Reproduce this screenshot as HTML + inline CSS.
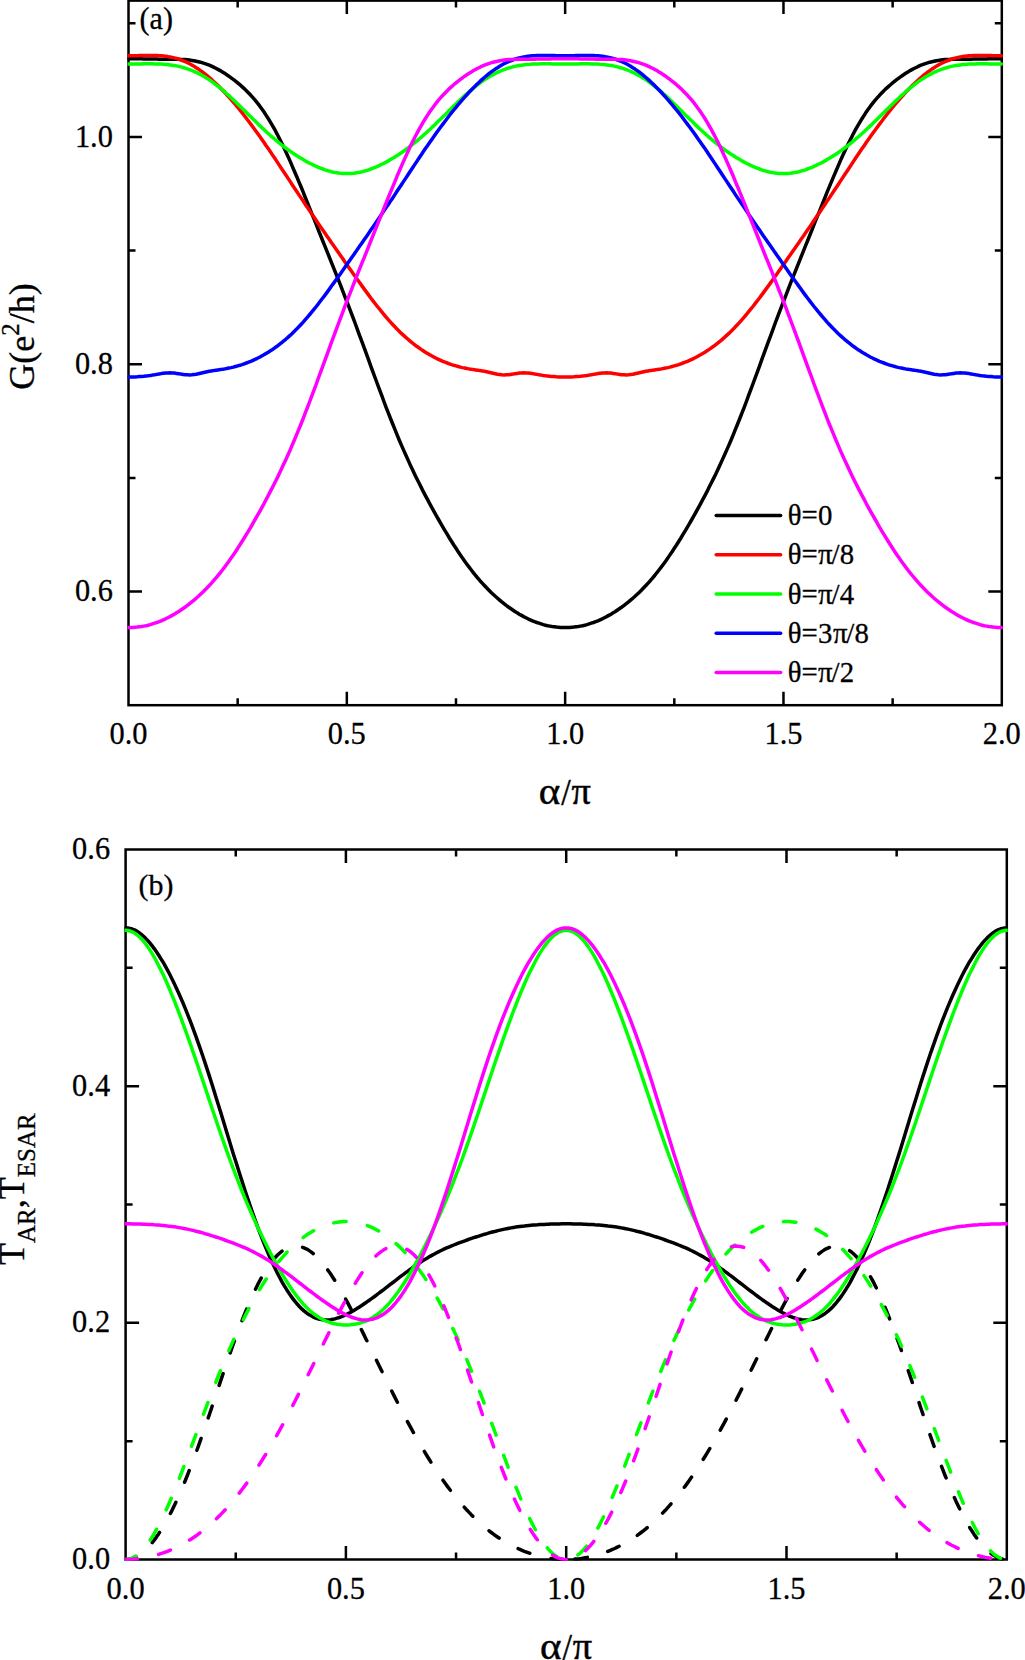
<!DOCTYPE html>
<html lang="en"><head><meta charset="utf-8"><title>Conductance and Andreev reflection vs alpha</title>
<style>html,body{margin:0;padding:0;background:#fff}svg{display:block}text{font-family:"Liberation Serif", serif;fill:#000;stroke:#000;stroke-width:0.3px}.T2{stroke-width:0.45px}.t{font-size:30px}.T{font-size:36px}.c{fill:none;stroke-width:3.50;stroke-linejoin:round;stroke-linecap:round}.ax{stroke:#000;stroke-width:2.50;fill:none;stroke-linecap:butt}</style></head><body>
<svg width="1025" height="1660" viewBox="0 0 1025 1660">
<rect width="1025" height="1660" fill="#fff"/>
<defs><clipPath id="ca"><rect x="127.5" y="-0.4" width="875.3" height="706.9"/></clipPath><clipPath id="cb"><rect x="124.6" y="848.5" width="883.2" height="712.2"/></clipPath></defs>
<g id="plotA">
<rect class="ax" x="128.50" y="0.60" width="873.30" height="704.60"/>
<path class="ax" d="M346.82 705.20v-13.5M346.82 0.60v13.5M565.15 705.20v-13.5M565.15 0.60v13.5M783.47 705.20v-13.5M783.47 0.60v13.5M237.66 705.20v-7.0M237.66 0.60v7.0M455.99 705.20v-7.0M455.99 0.60v7.0M674.31 705.20v-7.0M674.31 0.60v7.0M892.64 705.20v-7.0M892.64 0.60v7.0M128.50 591.55h13.5M1001.80 591.55h-13.5M128.50 364.26h13.5M1001.80 364.26h-13.5M128.50 136.97h13.5M1001.80 136.97h-13.5M128.50 477.91h7.0M1001.80 477.91h-7.0M128.50 250.62h7.0M1001.80 250.62h-7.0M128.50 23.33h7.0M1001.80 23.33h-7.0"/>
<g clip-path="url(#ca)">
<path class="c" stroke="#000000" d="M128.5 58.7 L130.7 58.7 L132.9 58.7 L135.0 58.7 L137.2 58.7 L139.4 58.8 L141.6 58.8 L143.8 58.9 L146.0 58.9 L148.1 59.0 L150.3 59.0 L152.5 59.1 L154.7 59.1 L156.9 59.1 L159.1 59.2 L161.2 59.2 L163.4 59.2 L165.6 59.2 L167.8 59.2 L170.0 59.2 L172.2 59.2 L174.3 59.2 L176.5 59.3 L178.7 59.3 L180.9 59.4 L183.1 59.5 L185.3 59.6 L187.4 59.8 L189.6 60.1 L191.8 60.4 L194.0 60.7 L196.2 61.2 L198.4 61.7 L200.5 62.2 L202.7 62.9 L204.9 63.6 L207.1 64.4 L209.3 65.2 L211.5 66.2 L213.6 67.2 L215.8 68.3 L218.0 69.4 L220.2 70.6 L222.4 71.9 L224.6 73.3 L226.7 74.7 L228.9 76.2 L231.1 77.8 L233.3 79.4 L235.5 81.1 L237.7 82.9 L239.8 84.7 L242.0 86.6 L244.2 88.6 L246.4 90.7 L248.6 93.0 L250.8 95.3 L252.9 97.7 L255.1 100.2 L257.3 102.9 L259.5 105.7 L261.7 108.7 L263.9 111.8 L266.0 115.1 L268.2 118.5 L270.4 122.1 L272.6 125.8 L274.8 129.7 L277.0 133.8 L279.1 138.0 L281.3 142.3 L283.5 146.8 L285.7 151.5 L287.9 156.2 L290.1 161.1 L292.2 166.1 L294.4 171.2 L296.6 176.3 L298.8 181.6 L301.0 186.8 L303.2 192.2 L305.3 197.5 L307.5 202.9 L309.7 208.4 L311.9 213.8 L314.1 219.2 L316.3 224.7 L318.4 230.1 L320.6 235.5 L322.8 241.0 L325.0 246.4 L327.2 251.8 L329.4 257.3 L331.5 262.7 L333.7 268.2 L335.9 273.7 L338.1 279.2 L340.3 284.7 L342.5 290.3 L344.6 295.9 L346.8 301.5 L349.0 307.2 L351.2 312.9 L353.4 318.7 L355.6 324.5 L357.7 330.4 L359.9 336.3 L362.1 342.2 L364.3 348.1 L366.5 354.1 L368.7 360.1 L370.8 366.1 L373.0 372.1 L375.2 378.0 L377.4 384.0 L379.6 389.9 L381.8 395.7 L383.9 401.5 L386.1 407.3 L388.3 412.9 L390.5 418.5 L392.7 424.0 L394.9 429.4 L397.0 434.7 L399.2 440.0 L401.4 445.1 L403.6 450.1 L405.8 455.0 L408.0 459.9 L410.1 464.6 L412.3 469.3 L414.5 473.9 L416.7 478.4 L418.9 482.8 L421.1 487.1 L423.2 491.4 L425.4 495.6 L427.6 499.7 L429.8 503.8 L432.0 507.8 L434.2 511.8 L436.3 515.7 L438.5 519.5 L440.7 523.3 L442.9 527.1 L445.1 530.8 L447.3 534.4 L449.4 538.0 L451.6 541.5 L453.8 545.0 L456.0 548.3 L458.2 551.7 L460.4 554.9 L462.5 558.1 L464.7 561.2 L466.9 564.2 L469.1 567.1 L471.3 570.0 L473.5 572.8 L475.6 575.5 L477.8 578.1 L480.0 580.7 L482.2 583.1 L484.4 585.5 L486.6 587.8 L488.7 590.0 L490.9 592.2 L493.1 594.3 L495.3 596.3 L497.5 598.2 L499.7 600.1 L501.8 601.9 L504.0 603.7 L506.2 605.4 L508.4 607.0 L510.6 608.5 L512.8 610.0 L514.9 611.5 L517.1 612.8 L519.3 614.2 L521.5 615.4 L523.7 616.6 L525.9 617.7 L528.0 618.8 L530.2 619.8 L532.4 620.8 L534.6 621.7 L536.8 622.5 L539.0 623.2 L541.1 623.9 L543.3 624.6 L545.5 625.2 L547.7 625.7 L549.9 626.1 L552.1 626.5 L554.2 626.8 L556.4 627.1 L558.6 627.3 L560.8 627.5 L563.0 627.6 L565.1 627.6 L567.3 627.6 L569.5 627.5 L571.7 627.3 L573.9 627.1 L576.1 626.8 L578.2 626.5 L580.4 626.1 L582.6 625.7 L584.8 625.2 L587.0 624.6 L589.2 623.9 L591.3 623.2 L593.5 622.5 L595.7 621.7 L597.9 620.8 L600.1 619.8 L602.3 618.8 L604.4 617.7 L606.6 616.6 L608.8 615.4 L611.0 614.2 L613.2 612.8 L615.4 611.5 L617.5 610.0 L619.7 608.5 L621.9 607.0 L624.1 605.4 L626.3 603.7 L628.5 601.9 L630.6 600.1 L632.8 598.2 L635.0 596.3 L637.2 594.3 L639.4 592.2 L641.6 590.0 L643.7 587.8 L645.9 585.5 L648.1 583.1 L650.3 580.7 L652.5 578.1 L654.7 575.5 L656.8 572.8 L659.0 570.0 L661.2 567.1 L663.4 564.2 L665.6 561.2 L667.8 558.1 L669.9 554.9 L672.1 551.7 L674.3 548.3 L676.5 545.0 L678.7 541.5 L680.9 538.0 L683.0 534.4 L685.2 530.8 L687.4 527.1 L689.6 523.3 L691.8 519.5 L694.0 515.7 L696.1 511.8 L698.3 507.8 L700.5 503.8 L702.7 499.7 L704.9 495.6 L707.1 491.4 L709.2 487.1 L711.4 482.8 L713.6 478.4 L715.8 473.9 L718.0 469.3 L720.2 464.6 L722.3 459.9 L724.5 455.0 L726.7 450.1 L728.9 445.1 L731.1 440.0 L733.3 434.7 L735.4 429.4 L737.6 424.0 L739.8 418.5 L742.0 412.9 L744.2 407.3 L746.4 401.5 L748.5 395.7 L750.7 389.9 L752.9 384.0 L755.1 378.0 L757.3 372.1 L759.5 366.1 L761.6 360.1 L763.8 354.1 L766.0 348.1 L768.2 342.2 L770.4 336.3 L772.6 330.4 L774.7 324.5 L776.9 318.7 L779.1 312.9 L781.3 307.2 L783.5 301.5 L785.7 295.9 L787.8 290.3 L790.0 284.7 L792.2 279.2 L794.4 273.7 L796.6 268.2 L798.8 262.7 L800.9 257.3 L803.1 251.8 L805.3 246.4 L807.5 241.0 L809.7 235.5 L811.9 230.1 L814.0 224.7 L816.2 219.2 L818.4 213.8 L820.6 208.4 L822.8 202.9 L825.0 197.5 L827.1 192.2 L829.3 186.8 L831.5 181.6 L833.7 176.3 L835.9 171.2 L838.1 166.1 L840.2 161.1 L842.4 156.2 L844.6 151.5 L846.8 146.8 L849.0 142.3 L851.2 138.0 L853.3 133.8 L855.5 129.7 L857.7 125.8 L859.9 122.1 L862.1 118.5 L864.3 115.1 L866.4 111.8 L868.6 108.7 L870.8 105.7 L873.0 102.9 L875.2 100.2 L877.4 97.7 L879.5 95.3 L881.7 93.0 L883.9 90.7 L886.1 88.6 L888.3 86.6 L890.5 84.7 L892.6 82.9 L894.8 81.1 L897.0 79.4 L899.2 77.8 L901.4 76.2 L903.6 74.7 L905.7 73.3 L907.9 71.9 L910.1 70.6 L912.3 69.4 L914.5 68.3 L916.7 67.2 L918.8 66.2 L921.0 65.2 L923.2 64.4 L925.4 63.6 L927.6 62.9 L929.8 62.2 L931.9 61.7 L934.1 61.2 L936.3 60.7 L938.5 60.4 L940.7 60.1 L942.9 59.8 L945.0 59.6 L947.2 59.5 L949.4 59.4 L951.6 59.3 L953.8 59.3 L956.0 59.2 L958.1 59.2 L960.3 59.2 L962.5 59.2 L964.7 59.2 L966.9 59.2 L969.1 59.2 L971.2 59.2 L973.4 59.1 L975.6 59.1 L977.8 59.1 L980.0 59.0 L982.2 59.0 L984.3 58.9 L986.5 58.9 L988.7 58.8 L990.9 58.8 L993.1 58.7 L995.3 58.7 L997.4 58.7 L999.6 58.7 L1001.8 58.7"/>
<path class="c" stroke="#ff0000" d="M128.5 55.8 L130.7 55.8 L132.9 55.7 L135.0 55.7 L137.2 55.7 L139.4 55.6 L141.6 55.6 L143.8 55.6 L146.0 55.5 L148.1 55.5 L150.3 55.5 L152.5 55.5 L154.7 55.5 L156.9 55.6 L159.1 55.7 L161.2 55.8 L163.4 56.0 L165.6 56.3 L167.8 56.6 L170.0 57.0 L172.2 57.4 L174.3 57.9 L176.5 58.5 L178.7 59.2 L180.9 60.0 L183.1 60.8 L185.3 61.7 L187.4 62.7 L189.6 63.8 L191.8 65.0 L194.0 66.3 L196.2 67.7 L198.4 69.1 L200.5 70.6 L202.7 72.2 L204.9 73.9 L207.1 75.7 L209.3 77.5 L211.5 79.4 L213.6 81.4 L215.8 83.5 L218.0 85.6 L220.2 87.8 L222.4 90.0 L224.6 92.3 L226.7 94.7 L228.9 97.1 L231.1 99.6 L233.3 102.1 L235.5 104.7 L237.7 107.3 L239.8 110.0 L242.0 112.7 L244.2 115.5 L246.4 118.3 L248.6 121.2 L250.8 124.1 L252.9 127.0 L255.1 130.0 L257.3 133.0 L259.5 136.1 L261.7 139.2 L263.9 142.3 L266.0 145.5 L268.2 148.6 L270.4 151.8 L272.6 155.1 L274.8 158.3 L277.0 161.6 L279.1 164.9 L281.3 168.2 L283.5 171.5 L285.7 174.8 L287.9 178.1 L290.1 181.4 L292.2 184.7 L294.4 188.0 L296.6 191.3 L298.8 194.6 L301.0 197.9 L303.2 201.1 L305.3 204.4 L307.5 207.6 L309.7 210.9 L311.9 214.1 L314.1 217.3 L316.3 220.5 L318.4 223.7 L320.6 226.9 L322.8 230.0 L325.0 233.2 L327.2 236.4 L329.4 239.5 L331.5 242.7 L333.7 245.8 L335.9 248.9 L338.1 252.1 L340.3 255.2 L342.5 258.3 L344.6 261.5 L346.8 264.6 L349.0 267.7 L351.2 270.8 L353.4 273.9 L355.6 277.0 L357.7 280.0 L359.9 283.1 L362.1 286.1 L364.3 289.1 L366.5 292.1 L368.7 295.1 L370.8 298.0 L373.0 300.8 L375.2 303.7 L377.4 306.5 L379.6 309.2 L381.8 311.9 L383.9 314.5 L386.1 317.1 L388.3 319.6 L390.5 322.1 L392.7 324.5 L394.9 326.8 L397.0 329.1 L399.2 331.2 L401.4 333.4 L403.6 335.4 L405.8 337.4 L408.0 339.3 L410.1 341.1 L412.3 342.9 L414.5 344.6 L416.7 346.3 L418.9 347.8 L421.1 349.4 L423.2 350.8 L425.4 352.2 L427.6 353.5 L429.8 354.8 L432.0 356.0 L434.2 357.2 L436.3 358.3 L438.5 359.3 L440.7 360.3 L442.9 361.3 L445.1 362.2 L447.3 363.0 L449.4 363.8 L451.6 364.6 L453.8 365.3 L456.0 365.9 L458.2 366.5 L460.4 367.1 L462.5 367.6 L464.7 368.0 L466.9 368.5 L469.1 368.9 L471.3 369.2 L473.5 369.6 L475.6 369.9 L477.8 370.2 L480.0 370.6 L482.2 370.9 L484.4 371.3 L486.6 371.7 L488.7 372.2 L490.9 372.7 L493.1 373.2 L495.3 373.7 L497.5 374.2 L499.7 374.5 L501.8 374.8 L504.0 374.9 L506.2 374.8 L508.4 374.7 L510.6 374.4 L512.8 374.1 L514.9 373.7 L517.1 373.4 L519.3 373.1 L521.5 372.9 L523.7 372.8 L525.9 372.9 L528.0 373.0 L530.2 373.3 L532.4 373.6 L534.6 374.0 L536.8 374.4 L539.0 374.8 L541.1 375.1 L543.3 375.5 L545.5 375.8 L547.7 376.0 L549.9 376.3 L552.1 376.5 L554.2 376.6 L556.4 376.8 L558.6 376.9 L560.8 377.0 L563.0 377.0 L565.1 377.0 L567.3 377.0 L569.5 377.0 L571.7 376.9 L573.9 376.8 L576.1 376.6 L578.2 376.5 L580.4 376.3 L582.6 376.0 L584.8 375.8 L587.0 375.5 L589.2 375.1 L591.3 374.8 L593.5 374.4 L595.7 374.0 L597.9 373.6 L600.1 373.3 L602.3 373.0 L604.4 372.9 L606.6 372.8 L608.8 372.9 L611.0 373.1 L613.2 373.4 L615.4 373.7 L617.5 374.1 L619.7 374.4 L621.9 374.7 L624.1 374.8 L626.3 374.9 L628.5 374.8 L630.6 374.5 L632.8 374.2 L635.0 373.7 L637.2 373.2 L639.4 372.7 L641.6 372.2 L643.7 371.7 L645.9 371.3 L648.1 370.9 L650.3 370.6 L652.5 370.2 L654.7 369.9 L656.8 369.6 L659.0 369.2 L661.2 368.9 L663.4 368.5 L665.6 368.0 L667.8 367.6 L669.9 367.1 L672.1 366.5 L674.3 365.9 L676.5 365.3 L678.7 364.6 L680.9 363.8 L683.0 363.0 L685.2 362.2 L687.4 361.3 L689.6 360.3 L691.8 359.3 L694.0 358.3 L696.1 357.2 L698.3 356.0 L700.5 354.8 L702.7 353.5 L704.9 352.2 L707.1 350.8 L709.2 349.4 L711.4 347.8 L713.6 346.3 L715.8 344.6 L718.0 342.9 L720.2 341.1 L722.3 339.3 L724.5 337.4 L726.7 335.4 L728.9 333.4 L731.1 331.2 L733.3 329.1 L735.4 326.8 L737.6 324.5 L739.8 322.1 L742.0 319.6 L744.2 317.1 L746.4 314.5 L748.5 311.9 L750.7 309.2 L752.9 306.5 L755.1 303.7 L757.3 300.8 L759.5 298.0 L761.6 295.1 L763.8 292.1 L766.0 289.1 L768.2 286.1 L770.4 283.1 L772.6 280.0 L774.7 277.0 L776.9 273.9 L779.1 270.8 L781.3 267.7 L783.5 264.6 L785.7 261.5 L787.8 258.3 L790.0 255.2 L792.2 252.1 L794.4 248.9 L796.6 245.8 L798.8 242.7 L800.9 239.5 L803.1 236.4 L805.3 233.2 L807.5 230.0 L809.7 226.9 L811.9 223.7 L814.0 220.5 L816.2 217.3 L818.4 214.1 L820.6 210.9 L822.8 207.6 L825.0 204.4 L827.1 201.1 L829.3 197.9 L831.5 194.6 L833.7 191.3 L835.9 188.0 L838.1 184.7 L840.2 181.4 L842.4 178.1 L844.6 174.8 L846.8 171.5 L849.0 168.2 L851.2 164.9 L853.3 161.6 L855.5 158.3 L857.7 155.1 L859.9 151.8 L862.1 148.6 L864.3 145.5 L866.4 142.3 L868.6 139.2 L870.8 136.1 L873.0 133.0 L875.2 130.0 L877.4 127.0 L879.5 124.1 L881.7 121.2 L883.9 118.3 L886.1 115.5 L888.3 112.7 L890.5 110.0 L892.6 107.3 L894.8 104.7 L897.0 102.1 L899.2 99.6 L901.4 97.1 L903.6 94.7 L905.7 92.3 L907.9 90.0 L910.1 87.8 L912.3 85.6 L914.5 83.5 L916.7 81.4 L918.8 79.4 L921.0 77.5 L923.2 75.7 L925.4 73.9 L927.6 72.2 L929.8 70.6 L931.9 69.1 L934.1 67.7 L936.3 66.3 L938.5 65.0 L940.7 63.8 L942.9 62.7 L945.0 61.7 L947.2 60.8 L949.4 60.0 L951.6 59.2 L953.8 58.5 L956.0 57.9 L958.1 57.4 L960.3 57.0 L962.5 56.6 L964.7 56.3 L966.9 56.0 L969.1 55.8 L971.2 55.7 L973.4 55.6 L975.6 55.5 L977.8 55.5 L980.0 55.5 L982.2 55.5 L984.3 55.5 L986.5 55.6 L988.7 55.6 L990.9 55.6 L993.1 55.7 L995.3 55.7 L997.4 55.7 L999.6 55.8 L1001.8 55.8"/>
<path class="c" stroke="#00ff00" d="M128.5 63.9 L130.7 63.9 L132.9 63.9 L135.0 63.9 L137.2 63.9 L139.4 63.9 L141.6 63.9 L143.8 63.8 L146.0 63.8 L148.1 63.8 L150.3 63.8 L152.5 63.8 L154.7 63.9 L156.9 63.9 L159.1 64.0 L161.2 64.1 L163.4 64.3 L165.6 64.4 L167.8 64.6 L170.0 64.9 L172.2 65.2 L174.3 65.5 L176.5 65.9 L178.7 66.4 L180.9 66.9 L183.1 67.5 L185.3 68.1 L187.4 68.8 L189.6 69.6 L191.8 70.5 L194.0 71.4 L196.2 72.4 L198.4 73.4 L200.5 74.6 L202.7 75.8 L204.9 77.1 L207.1 78.4 L209.3 79.9 L211.5 81.4 L213.6 82.9 L215.8 84.6 L218.0 86.3 L220.2 88.0 L222.4 89.9 L224.6 91.7 L226.7 93.7 L228.9 95.6 L231.1 97.7 L233.3 99.7 L235.5 101.8 L237.7 103.9 L239.8 106.0 L242.0 108.2 L244.2 110.3 L246.4 112.5 L248.6 114.7 L250.8 116.8 L252.9 119.0 L255.1 121.1 L257.3 123.3 L259.5 125.4 L261.7 127.4 L263.9 129.5 L266.0 131.5 L268.2 133.5 L270.4 135.5 L272.6 137.4 L274.8 139.2 L277.0 141.1 L279.1 142.9 L281.3 144.6 L283.5 146.3 L285.7 148.0 L287.9 149.6 L290.1 151.2 L292.2 152.7 L294.4 154.2 L296.6 155.6 L298.8 157.0 L301.0 158.3 L303.2 159.6 L305.3 160.9 L307.5 162.1 L309.7 163.2 L311.9 164.3 L314.1 165.4 L316.3 166.4 L318.4 167.3 L320.6 168.2 L322.8 169.0 L325.0 169.8 L327.2 170.5 L329.4 171.1 L331.5 171.7 L333.7 172.2 L335.9 172.6 L338.1 172.9 L340.3 173.2 L342.5 173.4 L344.6 173.5 L346.8 173.6 L349.0 173.5 L351.2 173.4 L353.4 173.2 L355.6 172.9 L357.7 172.6 L359.9 172.2 L362.1 171.7 L364.3 171.1 L366.5 170.5 L368.7 169.8 L370.8 169.0 L373.0 168.2 L375.2 167.3 L377.4 166.4 L379.6 165.4 L381.8 164.3 L383.9 163.2 L386.1 162.1 L388.3 160.9 L390.5 159.6 L392.7 158.3 L394.9 157.0 L397.0 155.6 L399.2 154.2 L401.4 152.7 L403.6 151.2 L405.8 149.6 L408.0 148.0 L410.1 146.3 L412.3 144.6 L414.5 142.9 L416.7 141.1 L418.9 139.2 L421.1 137.4 L423.2 135.5 L425.4 133.5 L427.6 131.5 L429.8 129.5 L432.0 127.4 L434.2 125.4 L436.3 123.3 L438.5 121.1 L440.7 119.0 L442.9 116.8 L445.1 114.7 L447.3 112.5 L449.4 110.3 L451.6 108.2 L453.8 106.0 L456.0 103.9 L458.2 101.8 L460.4 99.7 L462.5 97.7 L464.7 95.6 L466.9 93.7 L469.1 91.7 L471.3 89.9 L473.5 88.0 L475.6 86.3 L477.8 84.6 L480.0 82.9 L482.2 81.4 L484.4 79.9 L486.6 78.4 L488.7 77.1 L490.9 75.8 L493.1 74.6 L495.3 73.4 L497.5 72.4 L499.7 71.4 L501.8 70.5 L504.0 69.6 L506.2 68.8 L508.4 68.1 L510.6 67.5 L512.8 66.9 L514.9 66.4 L517.1 65.9 L519.3 65.5 L521.5 65.2 L523.7 64.9 L525.9 64.6 L528.0 64.4 L530.2 64.3 L532.4 64.1 L534.6 64.0 L536.8 63.9 L539.0 63.9 L541.1 63.8 L543.3 63.8 L545.5 63.8 L547.7 63.8 L549.9 63.8 L552.1 63.9 L554.2 63.9 L556.4 63.9 L558.6 63.9 L560.8 63.9 L563.0 63.9 L565.1 63.9 L567.3 63.9 L569.5 63.9 L571.7 63.9 L573.9 63.9 L576.1 63.9 L578.2 63.9 L580.4 63.8 L582.6 63.8 L584.8 63.8 L587.0 63.8 L589.2 63.8 L591.3 63.9 L593.5 63.9 L595.7 64.0 L597.9 64.1 L600.1 64.3 L602.3 64.4 L604.4 64.6 L606.6 64.9 L608.8 65.2 L611.0 65.5 L613.2 65.9 L615.4 66.4 L617.5 66.9 L619.7 67.5 L621.9 68.1 L624.1 68.8 L626.3 69.6 L628.5 70.5 L630.6 71.4 L632.8 72.4 L635.0 73.4 L637.2 74.6 L639.4 75.8 L641.6 77.1 L643.7 78.4 L645.9 79.9 L648.1 81.4 L650.3 82.9 L652.5 84.6 L654.7 86.3 L656.8 88.0 L659.0 89.9 L661.2 91.7 L663.4 93.7 L665.6 95.6 L667.8 97.7 L669.9 99.7 L672.1 101.8 L674.3 103.9 L676.5 106.0 L678.7 108.2 L680.9 110.3 L683.0 112.5 L685.2 114.7 L687.4 116.8 L689.6 119.0 L691.8 121.1 L694.0 123.3 L696.1 125.4 L698.3 127.4 L700.5 129.5 L702.7 131.5 L704.9 133.5 L707.1 135.5 L709.2 137.4 L711.4 139.2 L713.6 141.1 L715.8 142.9 L718.0 144.6 L720.2 146.3 L722.3 148.0 L724.5 149.6 L726.7 151.2 L728.9 152.7 L731.1 154.2 L733.3 155.6 L735.4 157.0 L737.6 158.3 L739.8 159.6 L742.0 160.9 L744.2 162.1 L746.4 163.2 L748.5 164.3 L750.7 165.4 L752.9 166.4 L755.1 167.3 L757.3 168.2 L759.5 169.0 L761.6 169.8 L763.8 170.5 L766.0 171.1 L768.2 171.7 L770.4 172.2 L772.6 172.6 L774.7 172.9 L776.9 173.2 L779.1 173.4 L781.3 173.5 L783.5 173.6 L785.7 173.5 L787.8 173.4 L790.0 173.2 L792.2 172.9 L794.4 172.6 L796.6 172.2 L798.8 171.7 L800.9 171.1 L803.1 170.5 L805.3 169.8 L807.5 169.0 L809.7 168.2 L811.9 167.3 L814.0 166.4 L816.2 165.4 L818.4 164.3 L820.6 163.2 L822.8 162.1 L825.0 160.9 L827.1 159.6 L829.3 158.3 L831.5 157.0 L833.7 155.6 L835.9 154.2 L838.1 152.7 L840.2 151.2 L842.4 149.6 L844.6 148.0 L846.8 146.3 L849.0 144.6 L851.2 142.9 L853.3 141.1 L855.5 139.2 L857.7 137.4 L859.9 135.5 L862.1 133.5 L864.3 131.5 L866.4 129.5 L868.6 127.4 L870.8 125.4 L873.0 123.3 L875.2 121.1 L877.4 119.0 L879.5 116.8 L881.7 114.7 L883.9 112.5 L886.1 110.3 L888.3 108.2 L890.5 106.0 L892.6 103.9 L894.8 101.8 L897.0 99.7 L899.2 97.7 L901.4 95.6 L903.6 93.7 L905.7 91.7 L907.9 89.9 L910.1 88.0 L912.3 86.3 L914.5 84.6 L916.7 82.9 L918.8 81.4 L921.0 79.9 L923.2 78.4 L925.4 77.1 L927.6 75.8 L929.8 74.6 L931.9 73.4 L934.1 72.4 L936.3 71.4 L938.5 70.5 L940.7 69.6 L942.9 68.8 L945.0 68.1 L947.2 67.5 L949.4 66.9 L951.6 66.4 L953.8 65.9 L956.0 65.5 L958.1 65.2 L960.3 64.9 L962.5 64.6 L964.7 64.4 L966.9 64.3 L969.1 64.1 L971.2 64.0 L973.4 63.9 L975.6 63.9 L977.8 63.8 L980.0 63.8 L982.2 63.8 L984.3 63.8 L986.5 63.8 L988.7 63.9 L990.9 63.9 L993.1 63.9 L995.3 63.9 L997.4 63.9 L999.6 63.9 L1001.8 63.9"/>
<path class="c" stroke="#0000ff" d="M128.5 377.0 L130.7 377.0 L132.9 377.0 L135.0 376.9 L137.2 376.8 L139.4 376.6 L141.6 376.5 L143.8 376.3 L146.0 376.0 L148.1 375.8 L150.3 375.5 L152.5 375.1 L154.7 374.8 L156.9 374.4 L159.1 374.0 L161.2 373.6 L163.4 373.3 L165.6 373.0 L167.8 372.9 L170.0 372.8 L172.2 372.9 L174.3 373.1 L176.5 373.4 L178.7 373.7 L180.9 374.1 L183.1 374.4 L185.3 374.7 L187.4 374.8 L189.6 374.9 L191.8 374.8 L194.0 374.5 L196.2 374.2 L198.4 373.7 L200.5 373.2 L202.7 372.7 L204.9 372.2 L207.1 371.7 L209.3 371.3 L211.5 370.9 L213.6 370.6 L215.8 370.2 L218.0 369.9 L220.2 369.6 L222.4 369.2 L224.6 368.9 L226.7 368.5 L228.9 368.0 L231.1 367.6 L233.3 367.1 L235.5 366.5 L237.7 365.9 L239.8 365.3 L242.0 364.6 L244.2 363.8 L246.4 363.0 L248.6 362.2 L250.8 361.3 L252.9 360.3 L255.1 359.3 L257.3 358.3 L259.5 357.2 L261.7 356.0 L263.9 354.8 L266.0 353.5 L268.2 352.2 L270.4 350.8 L272.6 349.4 L274.8 347.8 L277.0 346.3 L279.1 344.6 L281.3 342.9 L283.5 341.1 L285.7 339.3 L287.9 337.4 L290.1 335.4 L292.2 333.4 L294.4 331.2 L296.6 329.1 L298.8 326.8 L301.0 324.5 L303.2 322.1 L305.3 319.6 L307.5 317.1 L309.7 314.5 L311.9 311.9 L314.1 309.2 L316.3 306.5 L318.4 303.7 L320.6 300.8 L322.8 298.0 L325.0 295.1 L327.2 292.1 L329.4 289.1 L331.5 286.1 L333.7 283.1 L335.9 280.0 L338.1 277.0 L340.3 273.9 L342.5 270.8 L344.6 267.7 L346.8 264.6 L349.0 261.5 L351.2 258.3 L353.4 255.2 L355.6 252.1 L357.7 248.9 L359.9 245.8 L362.1 242.7 L364.3 239.5 L366.5 236.4 L368.7 233.2 L370.8 230.0 L373.0 226.9 L375.2 223.7 L377.4 220.5 L379.6 217.3 L381.8 214.1 L383.9 210.9 L386.1 207.6 L388.3 204.4 L390.5 201.1 L392.7 197.9 L394.9 194.6 L397.0 191.3 L399.2 188.0 L401.4 184.7 L403.6 181.4 L405.8 178.1 L408.0 174.8 L410.1 171.5 L412.3 168.2 L414.5 164.9 L416.7 161.6 L418.9 158.3 L421.1 155.1 L423.2 151.8 L425.4 148.6 L427.6 145.5 L429.8 142.3 L432.0 139.2 L434.2 136.1 L436.3 133.0 L438.5 130.0 L440.7 127.0 L442.9 124.1 L445.1 121.2 L447.3 118.3 L449.4 115.5 L451.6 112.7 L453.8 110.0 L456.0 107.3 L458.2 104.7 L460.4 102.1 L462.5 99.6 L464.7 97.1 L466.9 94.7 L469.1 92.3 L471.3 90.0 L473.5 87.8 L475.6 85.6 L477.8 83.5 L480.0 81.4 L482.2 79.4 L484.4 77.5 L486.6 75.7 L488.7 73.9 L490.9 72.2 L493.1 70.6 L495.3 69.1 L497.5 67.7 L499.7 66.3 L501.8 65.0 L504.0 63.8 L506.2 62.7 L508.4 61.7 L510.6 60.8 L512.8 60.0 L514.9 59.2 L517.1 58.5 L519.3 57.9 L521.5 57.4 L523.7 57.0 L525.9 56.6 L528.0 56.3 L530.2 56.0 L532.4 55.8 L534.6 55.7 L536.8 55.6 L539.0 55.5 L541.1 55.5 L543.3 55.5 L545.5 55.5 L547.7 55.5 L549.9 55.6 L552.1 55.6 L554.2 55.6 L556.4 55.7 L558.6 55.7 L560.8 55.7 L563.0 55.8 L565.1 55.8 L567.3 55.8 L569.5 55.7 L571.7 55.7 L573.9 55.7 L576.1 55.6 L578.2 55.6 L580.4 55.6 L582.6 55.5 L584.8 55.5 L587.0 55.5 L589.2 55.5 L591.3 55.5 L593.5 55.6 L595.7 55.7 L597.9 55.8 L600.1 56.0 L602.3 56.3 L604.4 56.6 L606.6 57.0 L608.8 57.4 L611.0 57.9 L613.2 58.5 L615.4 59.2 L617.5 60.0 L619.7 60.8 L621.9 61.7 L624.1 62.7 L626.3 63.8 L628.5 65.0 L630.6 66.3 L632.8 67.7 L635.0 69.1 L637.2 70.6 L639.4 72.2 L641.6 73.9 L643.7 75.7 L645.9 77.5 L648.1 79.4 L650.3 81.4 L652.5 83.5 L654.7 85.6 L656.8 87.8 L659.0 90.0 L661.2 92.3 L663.4 94.7 L665.6 97.1 L667.8 99.6 L669.9 102.1 L672.1 104.7 L674.3 107.3 L676.5 110.0 L678.7 112.7 L680.9 115.5 L683.0 118.3 L685.2 121.2 L687.4 124.1 L689.6 127.0 L691.8 130.0 L694.0 133.0 L696.1 136.1 L698.3 139.2 L700.5 142.3 L702.7 145.5 L704.9 148.6 L707.1 151.8 L709.2 155.1 L711.4 158.3 L713.6 161.6 L715.8 164.9 L718.0 168.2 L720.2 171.5 L722.3 174.8 L724.5 178.1 L726.7 181.4 L728.9 184.7 L731.1 188.0 L733.3 191.3 L735.4 194.6 L737.6 197.9 L739.8 201.1 L742.0 204.4 L744.2 207.6 L746.4 210.9 L748.5 214.1 L750.7 217.3 L752.9 220.5 L755.1 223.7 L757.3 226.9 L759.5 230.0 L761.6 233.2 L763.8 236.4 L766.0 239.5 L768.2 242.7 L770.4 245.8 L772.6 248.9 L774.7 252.1 L776.9 255.2 L779.1 258.3 L781.3 261.5 L783.5 264.6 L785.7 267.7 L787.8 270.8 L790.0 273.9 L792.2 277.0 L794.4 280.0 L796.6 283.1 L798.8 286.1 L800.9 289.1 L803.1 292.1 L805.3 295.1 L807.5 298.0 L809.7 300.8 L811.9 303.7 L814.0 306.5 L816.2 309.2 L818.4 311.9 L820.6 314.5 L822.8 317.1 L825.0 319.6 L827.1 322.1 L829.3 324.5 L831.5 326.8 L833.7 329.1 L835.9 331.2 L838.1 333.4 L840.2 335.4 L842.4 337.4 L844.6 339.3 L846.8 341.1 L849.0 342.9 L851.2 344.6 L853.3 346.3 L855.5 347.8 L857.7 349.4 L859.9 350.8 L862.1 352.2 L864.3 353.5 L866.4 354.8 L868.6 356.0 L870.8 357.2 L873.0 358.3 L875.2 359.3 L877.4 360.3 L879.5 361.3 L881.7 362.2 L883.9 363.0 L886.1 363.8 L888.3 364.6 L890.5 365.3 L892.6 365.9 L894.8 366.5 L897.0 367.1 L899.2 367.6 L901.4 368.0 L903.6 368.5 L905.7 368.9 L907.9 369.2 L910.1 369.6 L912.3 369.9 L914.5 370.2 L916.7 370.6 L918.8 370.9 L921.0 371.3 L923.2 371.7 L925.4 372.2 L927.6 372.7 L929.8 373.2 L931.9 373.7 L934.1 374.2 L936.3 374.5 L938.5 374.8 L940.7 374.9 L942.9 374.8 L945.0 374.7 L947.2 374.4 L949.4 374.1 L951.6 373.7 L953.8 373.4 L956.0 373.1 L958.1 372.9 L960.3 372.8 L962.5 372.9 L964.7 373.0 L966.9 373.3 L969.1 373.6 L971.2 374.0 L973.4 374.4 L975.6 374.8 L977.8 375.1 L980.0 375.5 L982.2 375.8 L984.3 376.0 L986.5 376.3 L988.7 376.5 L990.9 376.6 L993.1 376.8 L995.3 376.9 L997.4 377.0 L999.6 377.0 L1001.8 377.0"/>
<path class="c" stroke="#ff00ff" d="M128.5 627.6 L130.7 627.6 L132.9 627.5 L135.0 627.3 L137.2 627.1 L139.4 626.8 L141.6 626.5 L143.8 626.1 L146.0 625.7 L148.1 625.2 L150.3 624.6 L152.5 623.9 L154.7 623.2 L156.9 622.5 L159.1 621.7 L161.2 620.8 L163.4 619.8 L165.6 618.8 L167.8 617.7 L170.0 616.6 L172.2 615.4 L174.3 614.2 L176.5 612.8 L178.7 611.5 L180.9 610.0 L183.1 608.5 L185.3 607.0 L187.4 605.4 L189.6 603.7 L191.8 601.9 L194.0 600.1 L196.2 598.2 L198.4 596.3 L200.5 594.3 L202.7 592.2 L204.9 590.0 L207.1 587.8 L209.3 585.5 L211.5 583.1 L213.6 580.7 L215.8 578.1 L218.0 575.5 L220.2 572.8 L222.4 570.0 L224.6 567.1 L226.7 564.2 L228.9 561.2 L231.1 558.1 L233.3 554.9 L235.5 551.7 L237.7 548.3 L239.8 545.0 L242.0 541.5 L244.2 538.0 L246.4 534.4 L248.6 530.8 L250.8 527.1 L252.9 523.3 L255.1 519.5 L257.3 515.7 L259.5 511.8 L261.7 507.8 L263.9 503.8 L266.0 499.7 L268.2 495.6 L270.4 491.4 L272.6 487.1 L274.8 482.8 L277.0 478.4 L279.1 473.9 L281.3 469.3 L283.5 464.6 L285.7 459.9 L287.9 455.0 L290.1 450.1 L292.2 445.1 L294.4 440.0 L296.6 434.7 L298.8 429.4 L301.0 424.0 L303.2 418.5 L305.3 412.9 L307.5 407.3 L309.7 401.5 L311.9 395.7 L314.1 389.9 L316.3 384.0 L318.4 378.0 L320.6 372.1 L322.8 366.1 L325.0 360.1 L327.2 354.1 L329.4 348.1 L331.5 342.2 L333.7 336.3 L335.9 330.4 L338.1 324.5 L340.3 318.7 L342.5 312.9 L344.6 307.2 L346.8 301.5 L349.0 295.9 L351.2 290.3 L353.4 284.7 L355.6 279.2 L357.7 273.7 L359.9 268.2 L362.1 262.7 L364.3 257.3 L366.5 251.8 L368.7 246.4 L370.8 241.0 L373.0 235.5 L375.2 230.1 L377.4 224.7 L379.6 219.2 L381.8 213.8 L383.9 208.4 L386.1 202.9 L388.3 197.5 L390.5 192.2 L392.7 186.8 L394.9 181.6 L397.0 176.3 L399.2 171.2 L401.4 166.1 L403.6 161.1 L405.8 156.2 L408.0 151.5 L410.1 146.8 L412.3 142.3 L414.5 138.0 L416.7 133.8 L418.9 129.7 L421.1 125.8 L423.2 122.1 L425.4 118.5 L427.6 115.1 L429.8 111.8 L432.0 108.7 L434.2 105.7 L436.3 102.9 L438.5 100.2 L440.7 97.7 L442.9 95.3 L445.1 93.0 L447.3 90.7 L449.4 88.6 L451.6 86.6 L453.8 84.7 L456.0 82.9 L458.2 81.1 L460.4 79.4 L462.5 77.8 L464.7 76.2 L466.9 74.7 L469.1 73.3 L471.3 71.9 L473.5 70.6 L475.6 69.4 L477.8 68.3 L480.0 67.2 L482.2 66.2 L484.4 65.2 L486.6 64.4 L488.7 63.6 L490.9 62.9 L493.1 62.2 L495.3 61.7 L497.5 61.2 L499.7 60.7 L501.8 60.4 L504.0 60.1 L506.2 59.8 L508.4 59.6 L510.6 59.5 L512.8 59.4 L514.9 59.3 L517.1 59.3 L519.3 59.2 L521.5 59.2 L523.7 59.2 L525.9 59.2 L528.0 59.2 L530.2 59.2 L532.4 59.2 L534.6 59.2 L536.8 59.1 L539.0 59.1 L541.1 59.1 L543.3 59.0 L545.5 59.0 L547.7 58.9 L549.9 58.9 L552.1 58.8 L554.2 58.8 L556.4 58.7 L558.6 58.7 L560.8 58.7 L563.0 58.7 L565.1 58.7 L567.3 58.7 L569.5 58.7 L571.7 58.7 L573.9 58.7 L576.1 58.8 L578.2 58.8 L580.4 58.9 L582.6 58.9 L584.8 59.0 L587.0 59.0 L589.2 59.1 L591.3 59.1 L593.5 59.1 L595.7 59.2 L597.9 59.2 L600.1 59.2 L602.3 59.2 L604.4 59.2 L606.6 59.2 L608.8 59.2 L611.0 59.2 L613.2 59.3 L615.4 59.3 L617.5 59.4 L619.7 59.5 L621.9 59.6 L624.1 59.8 L626.3 60.1 L628.5 60.4 L630.6 60.7 L632.8 61.2 L635.0 61.7 L637.2 62.2 L639.4 62.9 L641.6 63.6 L643.7 64.4 L645.9 65.2 L648.1 66.2 L650.3 67.2 L652.5 68.3 L654.7 69.4 L656.8 70.6 L659.0 71.9 L661.2 73.3 L663.4 74.7 L665.6 76.2 L667.8 77.8 L669.9 79.4 L672.1 81.1 L674.3 82.9 L676.5 84.7 L678.7 86.6 L680.9 88.6 L683.0 90.7 L685.2 93.0 L687.4 95.3 L689.6 97.7 L691.8 100.2 L694.0 102.9 L696.1 105.7 L698.3 108.7 L700.5 111.8 L702.7 115.1 L704.9 118.5 L707.1 122.1 L709.2 125.8 L711.4 129.7 L713.6 133.8 L715.8 138.0 L718.0 142.3 L720.2 146.8 L722.3 151.5 L724.5 156.2 L726.7 161.1 L728.9 166.1 L731.1 171.2 L733.3 176.3 L735.4 181.6 L737.6 186.8 L739.8 192.2 L742.0 197.5 L744.2 202.9 L746.4 208.4 L748.5 213.8 L750.7 219.2 L752.9 224.7 L755.1 230.1 L757.3 235.5 L759.5 241.0 L761.6 246.4 L763.8 251.8 L766.0 257.3 L768.2 262.7 L770.4 268.2 L772.6 273.7 L774.7 279.2 L776.9 284.7 L779.1 290.3 L781.3 295.9 L783.5 301.5 L785.7 307.2 L787.8 312.9 L790.0 318.7 L792.2 324.5 L794.4 330.4 L796.6 336.3 L798.8 342.2 L800.9 348.1 L803.1 354.1 L805.3 360.1 L807.5 366.1 L809.7 372.1 L811.9 378.0 L814.0 384.0 L816.2 389.9 L818.4 395.7 L820.6 401.5 L822.8 407.3 L825.0 412.9 L827.1 418.5 L829.3 424.0 L831.5 429.4 L833.7 434.7 L835.9 440.0 L838.1 445.1 L840.2 450.1 L842.4 455.0 L844.6 459.9 L846.8 464.6 L849.0 469.3 L851.2 473.9 L853.3 478.4 L855.5 482.8 L857.7 487.1 L859.9 491.4 L862.1 495.6 L864.3 499.7 L866.4 503.8 L868.6 507.8 L870.8 511.8 L873.0 515.7 L875.2 519.5 L877.4 523.3 L879.5 527.1 L881.7 530.8 L883.9 534.4 L886.1 538.0 L888.3 541.5 L890.5 545.0 L892.6 548.3 L894.8 551.7 L897.0 554.9 L899.2 558.1 L901.4 561.2 L903.6 564.2 L905.7 567.1 L907.9 570.0 L910.1 572.8 L912.3 575.5 L914.5 578.1 L916.7 580.7 L918.8 583.1 L921.0 585.5 L923.2 587.8 L925.4 590.0 L927.6 592.2 L929.8 594.3 L931.9 596.3 L934.1 598.2 L936.3 600.1 L938.5 601.9 L940.7 603.7 L942.9 605.4 L945.0 607.0 L947.2 608.5 L949.4 610.0 L951.6 611.5 L953.8 612.8 L956.0 614.2 L958.1 615.4 L960.3 616.6 L962.5 617.7 L964.7 618.8 L966.9 619.8 L969.1 620.8 L971.2 621.7 L973.4 622.5 L975.6 623.2 L977.8 623.9 L980.0 624.6 L982.2 625.2 L984.3 625.7 L986.5 626.1 L988.7 626.5 L990.9 626.8 L993.1 627.1 L995.3 627.3 L997.4 627.5 L999.6 627.6 L1001.8 627.6"/>
</g>
<text font-size="32.5" text-anchor="end" transform="translate(112.90 146.57) scale(0.935 1)">1.0</text>
<text font-size="32.5" text-anchor="end" transform="translate(112.90 373.86) scale(0.935 1)">0.8</text>
<text font-size="32.5" text-anchor="end" transform="translate(112.90 601.15) scale(0.935 1)">0.6</text>
<text font-size="32.5" text-anchor="middle" transform="translate(128.50 743.90) scale(0.935 1)">0.0</text>
<text font-size="32.5" text-anchor="middle" transform="translate(346.82 743.90) scale(0.935 1)">0.5</text>
<text font-size="32.5" text-anchor="middle" transform="translate(565.15 743.90) scale(0.935 1)">1.0</text>
<text font-size="32.5" text-anchor="middle" transform="translate(783.47 743.90) scale(0.935 1)">1.5</text>
<text font-size="32.5" text-anchor="middle" transform="translate(1001.80 743.90) scale(0.935 1)">2.0</text>
<text class="T2" font-size="37.6" transform="translate(538.70 804.20) scale(1.09 1)">α</text><text class="T2" font-size="37" transform="translate(561.30 805.00) scale(0.92 1)">/</text><text class="T2" font-size="37.2" transform="translate(571.50 804.20) scale(1.03 1)">π</text>
<text class="T" text-anchor="middle" transform="translate(34.2 336.5) rotate(-90)">G(e<tspan font-size="25" dy="-15">2</tspan><tspan dy="15">/h)</tspan></text>
<text font-size="31.0" text-anchor="start" transform="translate(139.60 29.30) scale(0.970 1)">(a)</text>
<path class="c" stroke="#000000" d="M716.2 515.6H780.6"/>
<text font-size="30" transform="translate(787.76 525.10) scale(0.960 1)" x="0.00 14.32 31.46">θ=0</text>
<path class="c" stroke="#ff0000" d="M716.2 554.8H780.6"/>
<text font-size="30" transform="translate(787.76 564.30) scale(0.960 1)" x="0.00 14.32 31.61 45.47 54.11">θ=π/8</text>
<path class="c" stroke="#00ff00" d="M716.2 594.0H780.6"/>
<text font-size="30" transform="translate(787.76 603.50) scale(0.960 1)" x="0.00 14.32 31.61 45.47 54.11">θ=π/4</text>
<path class="c" stroke="#0000ff" d="M716.2 633.2H780.6"/>
<text font-size="30" transform="translate(787.76 642.70) scale(0.960 1)" x="0.00 14.32 31.46 47.03 60.89 69.53">θ=3π/8</text>
<path class="c" stroke="#ff00ff" d="M716.2 672.4H780.6"/>
<text font-size="30" transform="translate(787.76 681.90) scale(0.960 1)" x="0.00 14.32 31.61 45.47 54.11">θ=π/2</text>
</g>
<g id="plotB">
<rect class="ax" x="125.60" y="849.50" width="881.20" height="710.00"/>
<path class="ax" d="M345.90 1559.50v-13.5M345.90 849.50v13.5M566.20 1559.50v-13.5M566.20 849.50v13.5M786.50 1559.50v-13.5M786.50 849.50v13.5M235.75 1559.50v-7.0M235.75 849.50v7.0M456.05 1559.50v-7.0M456.05 849.50v7.0M676.35 1559.50v-7.0M676.35 849.50v7.0M896.65 1559.50v-7.0M896.65 849.50v7.0M125.60 1322.83h13.5M1006.80 1322.83h-13.5M125.60 1086.17h13.5M1006.80 1086.17h-13.5M125.60 1441.17h7.0M1006.80 1441.17h-7.0M125.60 1204.50h7.0M1006.80 1204.50h-7.0M125.60 967.83h7.0M1006.80 967.83h-7.0"/>
<g clip-path="url(#cb)">
<path class="c" stroke="#000000" d="M125.6 927.9 L127.8 928.0 L130.0 928.4 L132.2 929.0 L134.4 929.9 L136.6 931.1 L138.8 932.5 L141.0 934.1 L143.2 936.0 L145.4 938.1 L147.6 940.4 L149.8 942.9 L152.0 945.7 L154.2 948.6 L156.4 951.7 L158.6 955.0 L160.8 958.6 L163.1 962.2 L165.3 966.1 L167.5 970.1 L169.7 974.3 L171.9 978.7 L174.1 983.2 L176.3 987.9 L178.5 992.7 L180.7 997.7 L182.9 1002.8 L185.1 1008.1 L187.3 1013.6 L189.5 1019.2 L191.7 1024.9 L193.9 1030.8 L196.1 1036.9 L198.3 1043.1 L200.5 1049.4 L202.7 1055.8 L204.9 1062.4 L207.1 1069.1 L209.3 1075.9 L211.5 1082.8 L213.7 1089.8 L215.9 1096.9 L218.1 1104.0 L220.3 1111.1 L222.5 1118.3 L224.7 1125.6 L226.9 1132.8 L229.1 1140.0 L231.3 1147.2 L233.5 1154.4 L235.8 1161.5 L238.0 1168.6 L240.2 1175.5 L242.4 1182.4 L244.6 1189.2 L246.8 1195.9 L249.0 1202.4 L251.2 1208.8 L253.4 1215.1 L255.6 1221.3 L257.8 1227.3 L260.0 1233.1 L262.2 1238.8 L264.4 1244.3 L266.6 1249.6 L268.8 1254.7 L271.0 1259.7 L273.2 1264.5 L275.4 1269.1 L277.6 1273.5 L279.8 1277.7 L282.0 1281.8 L284.2 1285.6 L286.4 1289.2 L288.6 1292.6 L290.8 1295.9 L293.0 1298.9 L295.2 1301.7 L297.4 1304.3 L299.6 1306.7 L301.8 1308.9 L304.0 1310.9 L306.2 1312.7 L308.4 1314.3 L310.7 1315.6 L312.9 1316.8 L315.1 1317.8 L317.3 1318.6 L319.5 1319.2 L321.7 1319.6 L323.9 1319.9 L326.1 1320.0 L328.3 1319.9 L330.5 1319.7 L332.7 1319.3 L334.9 1318.9 L337.1 1318.2 L339.3 1317.5 L341.5 1316.7 L343.7 1315.8 L345.9 1314.7 L348.1 1313.6 L350.3 1312.5 L352.5 1311.2 L354.7 1309.9 L356.9 1308.6 L359.1 1307.2 L361.3 1305.8 L363.5 1304.3 L365.7 1302.8 L367.9 1301.2 L370.1 1299.7 L372.3 1298.1 L374.5 1296.5 L376.7 1294.8 L378.9 1293.2 L381.1 1291.5 L383.4 1289.8 L385.6 1288.1 L387.8 1286.4 L390.0 1284.7 L392.2 1283.0 L394.4 1281.3 L396.6 1279.6 L398.8 1277.9 L401.0 1276.2 L403.2 1274.6 L405.4 1272.9 L407.6 1271.3 L409.8 1269.6 L412.0 1268.1 L414.2 1266.5 L416.4 1265.0 L418.6 1263.5 L420.8 1262.0 L423.0 1260.6 L425.2 1259.2 L427.4 1257.9 L429.6 1256.6 L431.8 1255.4 L434.0 1254.2 L436.2 1253.0 L438.4 1251.9 L440.6 1250.8 L442.8 1249.7 L445.0 1248.7 L447.2 1247.7 L449.4 1246.8 L451.6 1245.9 L453.8 1245.0 L456.0 1244.1 L458.3 1243.2 L460.5 1242.4 L462.7 1241.6 L464.9 1240.8 L467.1 1240.0 L469.3 1239.2 L471.5 1238.4 L473.7 1237.7 L475.9 1237.0 L478.1 1236.3 L480.3 1235.6 L482.5 1234.9 L484.7 1234.2 L486.9 1233.6 L489.1 1232.9 L491.3 1232.3 L493.5 1231.7 L495.7 1231.2 L497.9 1230.6 L500.1 1230.1 L502.3 1229.6 L504.5 1229.1 L506.7 1228.7 L508.9 1228.3 L511.1 1227.9 L513.3 1227.5 L515.5 1227.1 L517.7 1226.8 L519.9 1226.5 L522.1 1226.2 L524.3 1226.0 L526.5 1225.7 L528.7 1225.5 L531.0 1225.3 L533.2 1225.1 L535.4 1224.9 L537.6 1224.8 L539.8 1224.6 L542.0 1224.5 L544.2 1224.4 L546.4 1224.3 L548.6 1224.2 L550.8 1224.1 L553.0 1224.0 L555.2 1223.9 L557.4 1223.9 L559.6 1223.9 L561.8 1223.8 L564.0 1223.8 L566.2 1223.8 L568.4 1223.8 L570.6 1223.8 L572.8 1223.9 L575.0 1223.9 L577.2 1223.9 L579.4 1224.0 L581.6 1224.1 L583.8 1224.2 L586.0 1224.3 L588.2 1224.4 L590.4 1224.5 L592.6 1224.6 L594.8 1224.8 L597.0 1224.9 L599.2 1225.1 L601.4 1225.3 L603.7 1225.5 L605.9 1225.7 L608.1 1226.0 L610.3 1226.2 L612.5 1226.5 L614.7 1226.8 L616.9 1227.1 L619.1 1227.5 L621.3 1227.9 L623.5 1228.3 L625.7 1228.7 L627.9 1229.1 L630.1 1229.6 L632.3 1230.1 L634.5 1230.6 L636.7 1231.2 L638.9 1231.7 L641.1 1232.3 L643.3 1232.9 L645.5 1233.6 L647.7 1234.2 L649.9 1234.9 L652.1 1235.6 L654.3 1236.3 L656.5 1237.0 L658.7 1237.7 L660.9 1238.4 L663.1 1239.2 L665.3 1240.0 L667.5 1240.8 L669.7 1241.6 L671.9 1242.4 L674.1 1243.2 L676.4 1244.1 L678.6 1245.0 L680.8 1245.9 L683.0 1246.8 L685.2 1247.7 L687.4 1248.7 L689.6 1249.7 L691.8 1250.8 L694.0 1251.9 L696.2 1253.0 L698.4 1254.2 L700.6 1255.4 L702.8 1256.6 L705.0 1257.9 L707.2 1259.2 L709.4 1260.6 L711.6 1262.0 L713.8 1263.5 L716.0 1265.0 L718.2 1266.5 L720.4 1268.1 L722.6 1269.6 L724.8 1271.3 L727.0 1272.9 L729.2 1274.6 L731.4 1276.2 L733.6 1277.9 L735.8 1279.6 L738.0 1281.3 L740.2 1283.0 L742.4 1284.7 L744.6 1286.4 L746.8 1288.1 L749.0 1289.8 L751.3 1291.5 L753.5 1293.2 L755.7 1294.8 L757.9 1296.5 L760.1 1298.1 L762.3 1299.7 L764.5 1301.2 L766.7 1302.8 L768.9 1304.3 L771.1 1305.8 L773.3 1307.2 L775.5 1308.6 L777.7 1309.9 L779.9 1311.2 L782.1 1312.5 L784.3 1313.6 L786.5 1314.7 L788.7 1315.8 L790.9 1316.7 L793.1 1317.5 L795.3 1318.2 L797.5 1318.9 L799.7 1319.3 L801.9 1319.7 L804.1 1319.9 L806.3 1320.0 L808.5 1319.9 L810.7 1319.6 L812.9 1319.2 L815.1 1318.6 L817.3 1317.8 L819.5 1316.8 L821.7 1315.6 L824.0 1314.3 L826.2 1312.7 L828.4 1310.9 L830.6 1308.9 L832.8 1306.7 L835.0 1304.3 L837.2 1301.7 L839.4 1298.9 L841.6 1295.9 L843.8 1292.6 L846.0 1289.2 L848.2 1285.6 L850.4 1281.8 L852.6 1277.7 L854.8 1273.5 L857.0 1269.1 L859.2 1264.5 L861.4 1259.7 L863.6 1254.7 L865.8 1249.6 L868.0 1244.3 L870.2 1238.8 L872.4 1233.1 L874.6 1227.3 L876.8 1221.3 L879.0 1215.1 L881.2 1208.8 L883.4 1202.4 L885.6 1195.9 L887.8 1189.2 L890.0 1182.4 L892.2 1175.5 L894.4 1168.6 L896.6 1161.5 L898.9 1154.4 L901.1 1147.2 L903.3 1140.0 L905.5 1132.8 L907.7 1125.6 L909.9 1118.3 L912.1 1111.1 L914.3 1104.0 L916.5 1096.9 L918.7 1089.8 L920.9 1082.8 L923.1 1075.9 L925.3 1069.1 L927.5 1062.4 L929.7 1055.8 L931.9 1049.4 L934.1 1043.1 L936.3 1036.9 L938.5 1030.8 L940.7 1024.9 L942.9 1019.2 L945.1 1013.6 L947.3 1008.1 L949.5 1002.8 L951.7 997.7 L953.9 992.7 L956.1 987.9 L958.3 983.2 L960.5 978.7 L962.7 974.3 L964.9 970.1 L967.1 966.1 L969.3 962.2 L971.6 958.6 L973.8 955.0 L976.0 951.7 L978.2 948.6 L980.4 945.7 L982.6 942.9 L984.8 940.4 L987.0 938.1 L989.2 936.0 L991.4 934.1 L993.6 932.5 L995.8 931.1 L998.0 929.9 L1000.2 929.0 L1002.4 928.4 L1004.6 928.0 L1006.8 927.9"/>
<path class="c" stroke="#000000" stroke-dasharray="12.50 21.80" stroke-dashoffset="1.65" d="M125.6 1559.5 L127.8 1559.4 L130.0 1559.0 L132.2 1558.4 L134.4 1557.6 L136.6 1556.6 L138.8 1555.3 L141.0 1553.8 L143.2 1552.1 L145.4 1550.1 L147.6 1547.9 L149.8 1545.5 L152.0 1542.9 L154.2 1540.1 L156.4 1537.1 L158.6 1533.9 L160.8 1530.5 L163.1 1526.9 L165.3 1523.1 L167.5 1519.1 L169.7 1514.9 L171.9 1510.6 L174.1 1506.0 L176.3 1501.4 L178.5 1496.5 L180.7 1491.5 L182.9 1486.3 L185.1 1481.0 L187.3 1475.5 L189.5 1469.9 L191.7 1464.2 L193.9 1458.4 L196.1 1452.4 L198.3 1446.3 L200.5 1440.1 L202.7 1433.9 L204.9 1427.5 L207.1 1421.1 L209.3 1414.7 L211.5 1408.2 L213.7 1401.6 L215.9 1395.0 L218.1 1388.5 L220.3 1381.9 L222.5 1375.4 L224.7 1368.9 L226.9 1362.4 L229.1 1356.0 L231.3 1349.7 L233.5 1343.5 L235.8 1337.4 L238.0 1331.3 L240.2 1325.5 L242.4 1319.7 L244.6 1314.1 L246.8 1308.7 L249.0 1303.5 L251.2 1298.4 L253.4 1293.5 L255.6 1288.9 L257.8 1284.4 L260.0 1280.2 L262.2 1276.2 L264.4 1272.4 L266.6 1268.9 L268.8 1265.6 L271.0 1262.6 L273.2 1259.8 L275.4 1257.3 L277.6 1255.0 L279.8 1253.0 L282.0 1251.2 L284.2 1249.7 L286.4 1248.5 L288.6 1247.5 L290.8 1246.8 L293.0 1246.3 L295.2 1246.1 L297.4 1246.2 L299.6 1246.5 L301.8 1247.0 L304.0 1247.8 L306.2 1248.8 L308.4 1250.1 L310.7 1251.6 L312.9 1253.3 L315.1 1255.2 L317.3 1257.3 L319.5 1259.6 L321.7 1262.1 L323.9 1264.8 L326.1 1267.7 L328.3 1270.7 L330.5 1273.8 L332.7 1277.2 L334.9 1280.6 L337.1 1284.2 L339.3 1287.9 L341.5 1291.7 L343.7 1295.6 L345.9 1299.6 L348.1 1303.7 L350.3 1307.9 L352.5 1312.1 L354.7 1316.3 L356.9 1320.7 L359.1 1325.0 L361.3 1329.5 L363.5 1333.9 L365.7 1338.4 L367.9 1342.8 L370.1 1347.3 L372.3 1351.8 L374.5 1356.3 L376.7 1360.8 L378.9 1365.3 L381.1 1369.8 L383.4 1374.3 L385.6 1378.8 L387.8 1383.2 L390.0 1387.6 L392.2 1392.0 L394.4 1396.4 L396.6 1400.7 L398.8 1405.0 L401.0 1409.3 L403.2 1413.5 L405.4 1417.7 L407.6 1421.8 L409.8 1425.9 L412.0 1429.9 L414.2 1433.9 L416.4 1437.8 L418.6 1441.6 L420.8 1445.4 L423.0 1449.2 L425.2 1452.9 L427.4 1456.5 L429.6 1460.0 L431.8 1463.5 L434.0 1466.9 L436.2 1470.3 L438.4 1473.6 L440.6 1476.8 L442.8 1480.0 L445.0 1483.1 L447.2 1486.1 L449.4 1489.0 L451.6 1491.9 L453.8 1494.7 L456.0 1497.5 L458.3 1500.2 L460.5 1502.8 L462.7 1505.3 L464.9 1507.8 L467.1 1510.3 L469.3 1512.6 L471.5 1514.9 L473.7 1517.1 L475.9 1519.3 L478.1 1521.4 L480.3 1523.4 L482.5 1525.3 L484.7 1527.2 L486.9 1529.1 L489.1 1530.8 L491.3 1532.5 L493.5 1534.2 L495.7 1535.8 L497.9 1537.3 L500.1 1538.7 L502.3 1540.1 L504.5 1541.5 L506.7 1542.8 L508.9 1544.0 L511.1 1545.2 L513.3 1546.3 L515.5 1547.4 L517.7 1548.5 L519.9 1549.4 L522.1 1550.4 L524.3 1551.3 L526.5 1552.1 L528.7 1552.9 L531.0 1553.6 L533.2 1554.4 L535.4 1555.0 L537.6 1555.6 L539.8 1556.2 L542.0 1556.7 L544.2 1557.2 L546.4 1557.6 L548.6 1558.0 L550.8 1558.4 L553.0 1558.7 L555.2 1558.9 L557.4 1559.1 L559.6 1559.3 L561.8 1559.4 L564.0 1559.5 L566.2 1559.5"/>
<path class="c" stroke="#000000" stroke-dasharray="12.50 21.27" stroke-dashoffset="25.02" d="M566.2 1559.5 L568.4 1559.5 L570.6 1559.4 L572.8 1559.3 L575.0 1559.1 L577.2 1558.9 L579.4 1558.7 L581.6 1558.4 L583.8 1558.0 L586.0 1557.6 L588.2 1557.2 L590.4 1556.7 L592.6 1556.2 L594.8 1555.6 L597.0 1555.0 L599.2 1554.4 L601.4 1553.6 L603.7 1552.9 L605.9 1552.1 L608.1 1551.3 L610.3 1550.4 L612.5 1549.4 L614.7 1548.5 L616.9 1547.4 L619.1 1546.3 L621.3 1545.2 L623.5 1544.0 L625.7 1542.8 L627.9 1541.5 L630.1 1540.1 L632.3 1538.7 L634.5 1537.3 L636.7 1535.8 L638.9 1534.2 L641.1 1532.5 L643.3 1530.8 L645.5 1529.1 L647.7 1527.2 L649.9 1525.3 L652.1 1523.4 L654.3 1521.4 L656.5 1519.3 L658.7 1517.1 L660.9 1514.9 L663.1 1512.6 L665.3 1510.3 L667.5 1507.8 L669.7 1505.3 L671.9 1502.8 L674.1 1500.2 L676.4 1497.5 L678.6 1494.7 L680.8 1491.9 L683.0 1489.0 L685.2 1486.1 L687.4 1483.1 L689.6 1480.0 L691.8 1476.8 L694.0 1473.6 L696.2 1470.3 L698.4 1466.9 L700.6 1463.5 L702.8 1460.0 L705.0 1456.5 L707.2 1452.9 L709.4 1449.2 L711.6 1445.4 L713.8 1441.6 L716.0 1437.8 L718.2 1433.9 L720.4 1429.9 L722.6 1425.9 L724.8 1421.8 L727.0 1417.7 L729.2 1413.5 L731.4 1409.3 L733.6 1405.0 L735.8 1400.7 L738.0 1396.4 L740.2 1392.0 L742.4 1387.6 L744.6 1383.2 L746.8 1378.8 L749.0 1374.3 L751.3 1369.8 L753.5 1365.3 L755.7 1360.8 L757.9 1356.3 L760.1 1351.8 L762.3 1347.3 L764.5 1342.8 L766.7 1338.4 L768.9 1333.9 L771.1 1329.5 L773.3 1325.0 L775.5 1320.7 L777.7 1316.3 L779.9 1312.1 L782.1 1307.9 L784.3 1303.7 L786.5 1299.6 L788.7 1295.6 L790.9 1291.7 L793.1 1287.9 L795.3 1284.2 L797.5 1280.6 L799.7 1277.2 L801.9 1273.8 L804.1 1270.7 L806.3 1267.7 L808.5 1264.8 L810.7 1262.1 L812.9 1259.6 L815.1 1257.3 L817.3 1255.2 L819.5 1253.3 L821.7 1251.6 L824.0 1250.1 L826.2 1248.8 L828.4 1247.8 L830.6 1247.0 L832.8 1246.5 L835.0 1246.2 L837.2 1246.1 L839.4 1246.3 L841.6 1246.8 L843.8 1247.5 L846.0 1248.5 L848.2 1249.7 L850.4 1251.2 L852.6 1253.0 L854.8 1255.0 L857.0 1257.3 L859.2 1259.8 L861.4 1262.6 L863.6 1265.6 L865.8 1268.9 L868.0 1272.4 L870.2 1276.2 L872.4 1280.2 L874.6 1284.4 L876.8 1288.9 L879.0 1293.5 L881.2 1298.4 L883.4 1303.5 L885.6 1308.7 L887.8 1314.1 L890.0 1319.7 L892.2 1325.5 L894.4 1331.3 L896.6 1337.4 L898.9 1343.5 L901.1 1349.7 L903.3 1356.0 L905.5 1362.4 L907.7 1368.9 L909.9 1375.4 L912.1 1381.9 L914.3 1388.5 L916.5 1395.0 L918.7 1401.6 L920.9 1408.2 L923.1 1414.7 L925.3 1421.1 L927.5 1427.5 L929.7 1433.9 L931.9 1440.1 L934.1 1446.3 L936.3 1452.4 L938.5 1458.4 L940.7 1464.2 L942.9 1469.9 L945.1 1475.5 L947.3 1481.0 L949.5 1486.3 L951.7 1491.5 L953.9 1496.5 L956.1 1501.4 L958.3 1506.0 L960.5 1510.6 L962.7 1514.9 L964.9 1519.1 L967.1 1523.1 L969.3 1526.9 L971.6 1530.5 L973.8 1533.9 L976.0 1537.1 L978.2 1540.1 L980.4 1542.9 L982.6 1545.5 L984.8 1547.9 L987.0 1550.1 L989.2 1552.1 L991.4 1553.8 L993.6 1555.3 L995.8 1556.6 L998.0 1557.6 L1000.2 1558.4 L1002.4 1559.0 L1004.6 1559.4 L1006.8 1559.5"/>
<path class="c" stroke="#00ff00" d="M125.6 930.3 L127.8 930.5 L130.0 931.0 L132.2 931.8 L134.4 933.0 L136.6 934.5 L138.8 936.3 L141.0 938.5 L143.2 940.9 L145.4 943.6 L147.6 946.6 L149.8 949.9 L152.0 953.4 L154.2 957.2 L156.4 961.2 L158.6 965.5 L160.8 969.9 L163.1 974.5 L165.3 979.3 L167.5 984.3 L169.7 989.5 L171.9 994.8 L174.1 1000.2 L176.3 1005.8 L178.5 1011.5 L180.7 1017.4 L182.9 1023.3 L185.1 1029.3 L187.3 1035.5 L189.5 1041.7 L191.7 1048.0 L193.9 1054.4 L196.1 1060.8 L198.3 1067.3 L200.5 1073.8 L202.7 1080.4 L204.9 1086.9 L207.1 1093.5 L209.3 1100.1 L211.5 1106.7 L213.7 1113.2 L215.9 1119.7 L218.1 1126.2 L220.3 1132.6 L222.5 1139.0 L224.7 1145.2 L226.9 1151.4 L229.1 1157.5 L231.3 1163.5 L233.5 1169.4 L235.8 1175.2 L238.0 1180.9 L240.2 1186.5 L242.4 1192.0 L244.6 1197.3 L246.8 1202.6 L249.0 1207.8 L251.2 1212.8 L253.4 1217.7 L255.6 1222.6 L257.8 1227.4 L260.0 1232.0 L262.2 1236.6 L264.4 1241.1 L266.6 1245.5 L268.8 1249.8 L271.0 1254.0 L273.2 1258.2 L275.4 1262.2 L277.6 1266.2 L279.8 1270.0 L282.0 1273.8 L284.2 1277.5 L286.4 1281.0 L288.6 1284.5 L290.8 1287.8 L293.0 1291.0 L295.2 1294.0 L297.4 1296.9 L299.6 1299.7 L301.8 1302.3 L304.0 1304.8 L306.2 1307.1 L308.4 1309.2 L310.7 1311.2 L312.9 1313.1 L315.1 1314.8 L317.3 1316.3 L319.5 1317.7 L321.7 1319.0 L323.9 1320.1 L326.1 1321.1 L328.3 1321.9 L330.5 1322.7 L332.7 1323.3 L334.9 1323.8 L337.1 1324.2 L339.3 1324.6 L341.5 1324.8 L343.7 1324.9 L345.9 1325.0 L348.1 1324.9 L350.3 1324.8 L352.5 1324.6 L354.7 1324.2 L356.9 1323.8 L359.1 1323.3 L361.3 1322.7 L363.5 1321.9 L365.7 1321.1 L367.9 1320.1 L370.1 1319.0 L372.3 1317.7 L374.5 1316.3 L376.7 1314.8 L378.9 1313.1 L381.1 1311.2 L383.4 1309.2 L385.6 1307.1 L387.8 1304.8 L390.0 1302.3 L392.2 1299.7 L394.4 1296.9 L396.6 1294.0 L398.8 1291.0 L401.0 1287.8 L403.2 1284.5 L405.4 1281.0 L407.6 1277.5 L409.8 1273.8 L412.0 1270.0 L414.2 1266.2 L416.4 1262.2 L418.6 1258.2 L420.8 1254.0 L423.0 1249.8 L425.2 1245.5 L427.4 1241.1 L429.6 1236.6 L431.8 1232.0 L434.0 1227.4 L436.2 1222.6 L438.4 1217.7 L440.6 1212.8 L442.8 1207.8 L445.0 1202.6 L447.2 1197.3 L449.4 1192.0 L451.6 1186.5 L453.8 1180.9 L456.0 1175.2 L458.3 1169.4 L460.5 1163.5 L462.7 1157.5 L464.9 1151.4 L467.1 1145.2 L469.3 1139.0 L471.5 1132.6 L473.7 1126.2 L475.9 1119.7 L478.1 1113.2 L480.3 1106.7 L482.5 1100.1 L484.7 1093.5 L486.9 1086.9 L489.1 1080.4 L491.3 1073.8 L493.5 1067.3 L495.7 1060.8 L497.9 1054.4 L500.1 1048.0 L502.3 1041.7 L504.5 1035.5 L506.7 1029.3 L508.9 1023.3 L511.1 1017.4 L513.3 1011.5 L515.5 1005.8 L517.7 1000.2 L519.9 994.8 L522.1 989.5 L524.3 984.3 L526.5 979.3 L528.7 974.5 L531.0 969.9 L533.2 965.5 L535.4 961.2 L537.6 957.2 L539.8 953.4 L542.0 949.9 L544.2 946.6 L546.4 943.6 L548.6 940.9 L550.8 938.5 L553.0 936.3 L555.2 934.5 L557.4 933.0 L559.6 931.8 L561.8 931.0 L564.0 930.5 L566.2 930.3 L568.4 930.5 L570.6 931.0 L572.8 931.8 L575.0 933.0 L577.2 934.5 L579.4 936.3 L581.6 938.5 L583.8 940.9 L586.0 943.6 L588.2 946.6 L590.4 949.9 L592.6 953.4 L594.8 957.2 L597.0 961.2 L599.2 965.5 L601.4 969.9 L603.7 974.5 L605.9 979.3 L608.1 984.3 L610.3 989.5 L612.5 994.8 L614.7 1000.2 L616.9 1005.8 L619.1 1011.5 L621.3 1017.4 L623.5 1023.3 L625.7 1029.3 L627.9 1035.5 L630.1 1041.7 L632.3 1048.0 L634.5 1054.4 L636.7 1060.8 L638.9 1067.3 L641.1 1073.8 L643.3 1080.4 L645.5 1086.9 L647.7 1093.5 L649.9 1100.1 L652.1 1106.7 L654.3 1113.2 L656.5 1119.7 L658.7 1126.2 L660.9 1132.6 L663.1 1139.0 L665.3 1145.2 L667.5 1151.4 L669.7 1157.5 L671.9 1163.5 L674.1 1169.4 L676.4 1175.2 L678.6 1180.9 L680.8 1186.5 L683.0 1192.0 L685.2 1197.3 L687.4 1202.6 L689.6 1207.8 L691.8 1212.8 L694.0 1217.7 L696.2 1222.6 L698.4 1227.4 L700.6 1232.0 L702.8 1236.6 L705.0 1241.1 L707.2 1245.5 L709.4 1249.8 L711.6 1254.0 L713.8 1258.2 L716.0 1262.2 L718.2 1266.2 L720.4 1270.0 L722.6 1273.8 L724.8 1277.5 L727.0 1281.0 L729.2 1284.5 L731.4 1287.8 L733.6 1291.0 L735.8 1294.0 L738.0 1296.9 L740.2 1299.7 L742.4 1302.3 L744.6 1304.8 L746.8 1307.1 L749.0 1309.2 L751.3 1311.2 L753.5 1313.1 L755.7 1314.8 L757.9 1316.3 L760.1 1317.7 L762.3 1319.0 L764.5 1320.1 L766.7 1321.1 L768.9 1321.9 L771.1 1322.7 L773.3 1323.3 L775.5 1323.8 L777.7 1324.2 L779.9 1324.6 L782.1 1324.8 L784.3 1324.9 L786.5 1325.0 L788.7 1324.9 L790.9 1324.8 L793.1 1324.6 L795.3 1324.2 L797.5 1323.8 L799.7 1323.3 L801.9 1322.7 L804.1 1321.9 L806.3 1321.1 L808.5 1320.1 L810.7 1319.0 L812.9 1317.7 L815.1 1316.3 L817.3 1314.8 L819.5 1313.1 L821.7 1311.2 L824.0 1309.2 L826.2 1307.1 L828.4 1304.8 L830.6 1302.3 L832.8 1299.7 L835.0 1296.9 L837.2 1294.0 L839.4 1291.0 L841.6 1287.8 L843.8 1284.5 L846.0 1281.0 L848.2 1277.5 L850.4 1273.8 L852.6 1270.0 L854.8 1266.2 L857.0 1262.2 L859.2 1258.2 L861.4 1254.0 L863.6 1249.8 L865.8 1245.5 L868.0 1241.1 L870.2 1236.6 L872.4 1232.0 L874.6 1227.4 L876.8 1222.6 L879.0 1217.7 L881.2 1212.8 L883.4 1207.8 L885.6 1202.6 L887.8 1197.3 L890.0 1192.0 L892.2 1186.5 L894.4 1180.9 L896.6 1175.2 L898.9 1169.4 L901.1 1163.5 L903.3 1157.5 L905.5 1151.4 L907.7 1145.2 L909.9 1139.0 L912.1 1132.6 L914.3 1126.2 L916.5 1119.7 L918.7 1113.2 L920.9 1106.7 L923.1 1100.1 L925.3 1093.5 L927.5 1086.9 L929.7 1080.4 L931.9 1073.8 L934.1 1067.3 L936.3 1060.8 L938.5 1054.4 L940.7 1048.0 L942.9 1041.7 L945.1 1035.5 L947.3 1029.3 L949.5 1023.3 L951.7 1017.4 L953.9 1011.5 L956.1 1005.8 L958.3 1000.2 L960.5 994.8 L962.7 989.5 L964.9 984.3 L967.1 979.3 L969.3 974.5 L971.6 969.9 L973.8 965.5 L976.0 961.2 L978.2 957.2 L980.4 953.4 L982.6 949.9 L984.8 946.6 L987.0 943.6 L989.2 940.9 L991.4 938.5 L993.6 936.3 L995.8 934.5 L998.0 933.0 L1000.2 931.8 L1002.4 931.0 L1004.6 930.5 L1006.8 930.3"/>
<path class="c" stroke="#00ff00" stroke-dasharray="12.50 21.70" stroke-dashoffset="1.55" d="M125.6 1559.5 L127.8 1559.4 L130.0 1558.9 L132.2 1558.1 L134.4 1556.9 L136.6 1555.5 L138.8 1553.8 L141.0 1551.7 L143.2 1549.4 L145.4 1546.8 L147.6 1543.9 L149.8 1540.7 L152.0 1537.3 L154.2 1533.6 L156.4 1529.7 L158.6 1525.5 L160.8 1521.2 L163.1 1516.6 L165.3 1511.9 L167.5 1507.0 L169.7 1502.0 L171.9 1496.8 L174.1 1491.4 L176.3 1486.0 L178.5 1480.5 L180.7 1474.8 L182.9 1469.1 L185.1 1463.4 L187.3 1457.5 L189.5 1451.7 L191.7 1445.8 L193.9 1439.9 L196.1 1434.0 L198.3 1428.1 L200.5 1422.2 L202.7 1416.3 L204.9 1410.5 L207.1 1404.7 L209.3 1398.9 L211.5 1393.2 L213.7 1387.6 L215.9 1382.0 L218.1 1376.5 L220.3 1371.1 L222.5 1365.7 L224.7 1360.4 L226.9 1355.2 L229.1 1350.1 L231.3 1345.1 L233.5 1340.1 L235.8 1335.3 L238.0 1330.6 L240.2 1325.9 L242.4 1321.4 L244.6 1316.9 L246.8 1312.6 L249.0 1308.4 L251.2 1304.3 L253.4 1300.2 L255.6 1296.3 L257.8 1292.5 L260.0 1288.8 L262.2 1285.2 L264.4 1281.8 L266.6 1278.4 L268.8 1275.1 L271.0 1272.0 L273.2 1268.9 L275.4 1266.0 L277.6 1263.2 L279.8 1260.4 L282.0 1257.8 L284.2 1255.3 L286.4 1252.8 L288.6 1250.5 L290.8 1248.3 L293.0 1246.1 L295.2 1244.1 L297.4 1242.2 L299.6 1240.3 L301.8 1238.6 L304.0 1236.9 L306.2 1235.3 L308.4 1233.8 L310.7 1232.4 L312.9 1231.1 L315.1 1229.9 L317.3 1228.7 L319.5 1227.7 L321.7 1226.7 L323.9 1225.8 L326.1 1225.0 L328.3 1224.3 L330.5 1223.6 L332.7 1223.1 L334.9 1222.6 L337.1 1222.2 L339.3 1221.9 L341.5 1221.7 L343.7 1221.6 L345.9 1221.6 L348.1 1221.6 L350.3 1221.7 L352.5 1221.9 L354.7 1222.2 L356.9 1222.6 L359.1 1223.1 L361.3 1223.6 L363.5 1224.3 L365.7 1225.0 L367.9 1225.8 L370.1 1226.7 L372.3 1227.7 L374.5 1228.7 L376.7 1229.9 L378.9 1231.1 L381.1 1232.4 L383.4 1233.8 L385.6 1235.3 L387.8 1236.9 L390.0 1238.6 L392.2 1240.3 L394.4 1242.2 L396.6 1244.1 L398.8 1246.1 L401.0 1248.3 L403.2 1250.5 L405.4 1252.8 L407.6 1255.3 L409.8 1257.8 L412.0 1260.4 L414.2 1263.2 L416.4 1266.0 L418.6 1268.9 L420.8 1272.0 L423.0 1275.1 L425.2 1278.4 L427.4 1281.8 L429.6 1285.2 L431.8 1288.8 L434.0 1292.5 L436.2 1296.3 L438.4 1300.2 L440.6 1304.3 L442.8 1308.4 L445.0 1312.6 L447.2 1316.9 L449.4 1321.4 L451.6 1325.9 L453.8 1330.6 L456.0 1335.3 L458.3 1340.1 L460.5 1345.1 L462.7 1350.1 L464.9 1355.2 L467.1 1360.4 L469.3 1365.7 L471.5 1371.1 L473.7 1376.5 L475.9 1382.0 L478.1 1387.6 L480.3 1393.2 L482.5 1398.9 L484.7 1404.7 L486.9 1410.5 L489.1 1416.3 L491.3 1422.2 L493.5 1428.1 L495.7 1434.0 L497.9 1439.9 L500.1 1445.8 L502.3 1451.7 L504.5 1457.5 L506.7 1463.4 L508.9 1469.1 L511.1 1474.8 L513.3 1480.5 L515.5 1486.0 L517.7 1491.4 L519.9 1496.8 L522.1 1502.0 L524.3 1507.0 L526.5 1511.9 L528.7 1516.6 L531.0 1521.2 L533.2 1525.5 L535.4 1529.7 L537.6 1533.6 L539.8 1537.3 L542.0 1540.7 L544.2 1543.9 L546.4 1546.8 L548.6 1549.4 L550.8 1551.7 L553.0 1553.8 L555.2 1555.5 L557.4 1556.9 L559.6 1558.1 L561.8 1558.9 L564.0 1559.4 L566.2 1559.5"/>
<path class="c" stroke="#00ff00" stroke-dasharray="12.50 21.27" stroke-dashoffset="21.02" d="M566.2 1559.5 L568.4 1559.4 L570.6 1558.9 L572.8 1558.1 L575.0 1556.9 L577.2 1555.5 L579.4 1553.8 L581.6 1551.7 L583.8 1549.4 L586.0 1546.8 L588.2 1543.9 L590.4 1540.7 L592.6 1537.3 L594.8 1533.6 L597.0 1529.7 L599.2 1525.5 L601.4 1521.2 L603.7 1516.6 L605.9 1511.9 L608.1 1507.0 L610.3 1502.0 L612.5 1496.8 L614.7 1491.4 L616.9 1486.0 L619.1 1480.5 L621.3 1474.8 L623.5 1469.1 L625.7 1463.4 L627.9 1457.5 L630.1 1451.7 L632.3 1445.8 L634.5 1439.9 L636.7 1434.0 L638.9 1428.1 L641.1 1422.2 L643.3 1416.3 L645.5 1410.5 L647.7 1404.7 L649.9 1398.9 L652.1 1393.2 L654.3 1387.6 L656.5 1382.0 L658.7 1376.5 L660.9 1371.1 L663.1 1365.7 L665.3 1360.4 L667.5 1355.2 L669.7 1350.1 L671.9 1345.1 L674.1 1340.1 L676.4 1335.3 L678.6 1330.6 L680.8 1325.9 L683.0 1321.4 L685.2 1316.9 L687.4 1312.6 L689.6 1308.4 L691.8 1304.3 L694.0 1300.2 L696.2 1296.3 L698.4 1292.5 L700.6 1288.8 L702.8 1285.2 L705.0 1281.8 L707.2 1278.4 L709.4 1275.1 L711.6 1272.0 L713.8 1268.9 L716.0 1266.0 L718.2 1263.2 L720.4 1260.4 L722.6 1257.8 L724.8 1255.3 L727.0 1252.8 L729.2 1250.5 L731.4 1248.3 L733.6 1246.1 L735.8 1244.1 L738.0 1242.2 L740.2 1240.3 L742.4 1238.6 L744.6 1236.9 L746.8 1235.3 L749.0 1233.8 L751.3 1232.4 L753.5 1231.1 L755.7 1229.9 L757.9 1228.7 L760.1 1227.7 L762.3 1226.7 L764.5 1225.8 L766.7 1225.0 L768.9 1224.3 L771.1 1223.6 L773.3 1223.1 L775.5 1222.6 L777.7 1222.2 L779.9 1221.9 L782.1 1221.7 L784.3 1221.6 L786.5 1221.6 L788.7 1221.6 L790.9 1221.7 L793.1 1221.9 L795.3 1222.2 L797.5 1222.6 L799.7 1223.1 L801.9 1223.6 L804.1 1224.3 L806.3 1225.0 L808.5 1225.8 L810.7 1226.7 L812.9 1227.7 L815.1 1228.7 L817.3 1229.9 L819.5 1231.1 L821.7 1232.4 L824.0 1233.8 L826.2 1235.3 L828.4 1236.9 L830.6 1238.6 L832.8 1240.3 L835.0 1242.2 L837.2 1244.1 L839.4 1246.1 L841.6 1248.3 L843.8 1250.5 L846.0 1252.8 L848.2 1255.3 L850.4 1257.8 L852.6 1260.4 L854.8 1263.2 L857.0 1266.0 L859.2 1268.9 L861.4 1272.0 L863.6 1275.1 L865.8 1278.4 L868.0 1281.8 L870.2 1285.2 L872.4 1288.8 L874.6 1292.5 L876.8 1296.3 L879.0 1300.2 L881.2 1304.3 L883.4 1308.4 L885.6 1312.6 L887.8 1316.9 L890.0 1321.4 L892.2 1325.9 L894.4 1330.6 L896.6 1335.3 L898.9 1340.1 L901.1 1345.1 L903.3 1350.1 L905.5 1355.2 L907.7 1360.4 L909.9 1365.7 L912.1 1371.1 L914.3 1376.5 L916.5 1382.0 L918.7 1387.6 L920.9 1393.2 L923.1 1398.9 L925.3 1404.7 L927.5 1410.5 L929.7 1416.3 L931.9 1422.2 L934.1 1428.1 L936.3 1434.0 L938.5 1439.9 L940.7 1445.8 L942.9 1451.7 L945.1 1457.5 L947.3 1463.4 L949.5 1469.1 L951.7 1474.8 L953.9 1480.5 L956.1 1486.0 L958.3 1491.4 L960.5 1496.8 L962.7 1502.0 L964.9 1507.0 L967.1 1511.9 L969.3 1516.6 L971.6 1521.2 L973.8 1525.5 L976.0 1529.7 L978.2 1533.6 L980.4 1537.3 L982.6 1540.7 L984.8 1543.9 L987.0 1546.8 L989.2 1549.4 L991.4 1551.7 L993.6 1553.8 L995.8 1555.5 L998.0 1556.9 L1000.2 1558.1 L1002.4 1558.9 L1004.6 1559.4 L1006.8 1559.5"/>
<path class="c" stroke="#ff00ff" d="M125.6 1223.8 L127.8 1223.8 L130.0 1223.8 L132.2 1223.9 L134.4 1223.9 L136.6 1223.9 L138.8 1224.0 L141.0 1224.1 L143.2 1224.2 L145.4 1224.3 L147.6 1224.4 L149.8 1224.5 L152.0 1224.6 L154.2 1224.8 L156.4 1224.9 L158.6 1225.1 L160.8 1225.3 L163.1 1225.5 L165.3 1225.7 L167.5 1226.0 L169.7 1226.2 L171.9 1226.5 L174.1 1226.8 L176.3 1227.1 L178.5 1227.5 L180.7 1227.9 L182.9 1228.3 L185.1 1228.7 L187.3 1229.1 L189.5 1229.6 L191.7 1230.1 L193.9 1230.6 L196.1 1231.2 L198.3 1231.7 L200.5 1232.3 L202.7 1232.9 L204.9 1233.6 L207.1 1234.2 L209.3 1234.9 L211.5 1235.6 L213.7 1236.3 L215.9 1237.0 L218.1 1237.7 L220.3 1238.4 L222.5 1239.2 L224.7 1240.0 L226.9 1240.8 L229.1 1241.6 L231.3 1242.4 L233.5 1243.2 L235.8 1244.1 L238.0 1245.0 L240.2 1245.9 L242.4 1246.8 L244.6 1247.7 L246.8 1248.7 L249.0 1249.7 L251.2 1250.8 L253.4 1251.9 L255.6 1253.0 L257.8 1254.2 L260.0 1255.4 L262.2 1256.6 L264.4 1257.9 L266.6 1259.2 L268.8 1260.6 L271.0 1262.0 L273.2 1263.5 L275.4 1265.0 L277.6 1266.5 L279.8 1268.1 L282.0 1269.6 L284.2 1271.3 L286.4 1272.9 L288.6 1274.6 L290.8 1276.2 L293.0 1277.9 L295.2 1279.6 L297.4 1281.3 L299.6 1283.0 L301.8 1284.7 L304.0 1286.4 L306.2 1288.1 L308.4 1289.8 L310.7 1291.5 L312.9 1293.2 L315.1 1294.8 L317.3 1296.5 L319.5 1298.1 L321.7 1299.7 L323.9 1301.2 L326.1 1302.8 L328.3 1304.3 L330.5 1305.8 L332.7 1307.2 L334.9 1308.6 L337.1 1309.9 L339.3 1311.2 L341.5 1312.5 L343.7 1313.6 L345.9 1314.7 L348.1 1315.8 L350.3 1316.7 L352.5 1317.5 L354.7 1318.2 L356.9 1318.9 L359.1 1319.3 L361.3 1319.7 L363.5 1319.9 L365.7 1320.0 L367.9 1319.9 L370.1 1319.6 L372.3 1319.2 L374.5 1318.6 L376.7 1317.8 L378.9 1316.8 L381.1 1315.6 L383.4 1314.3 L385.6 1312.7 L387.8 1310.9 L390.0 1308.9 L392.2 1306.7 L394.4 1304.3 L396.6 1301.7 L398.8 1298.9 L401.0 1295.9 L403.2 1292.6 L405.4 1289.2 L407.6 1285.6 L409.8 1281.8 L412.0 1277.7 L414.2 1273.5 L416.4 1269.1 L418.6 1264.5 L420.8 1259.7 L423.0 1254.7 L425.2 1249.6 L427.4 1244.3 L429.6 1238.8 L431.8 1233.1 L434.0 1227.3 L436.2 1221.3 L438.4 1215.1 L440.6 1208.8 L442.8 1202.4 L445.0 1195.9 L447.2 1189.2 L449.4 1182.4 L451.6 1175.5 L453.8 1168.6 L456.0 1161.5 L458.3 1154.4 L460.5 1147.2 L462.7 1140.0 L464.9 1132.8 L467.1 1125.6 L469.3 1118.3 L471.5 1111.1 L473.7 1104.0 L475.9 1096.9 L478.1 1089.8 L480.3 1082.8 L482.5 1075.9 L484.7 1069.1 L486.9 1062.4 L489.1 1055.8 L491.3 1049.4 L493.5 1043.1 L495.7 1036.9 L497.9 1030.8 L500.1 1024.9 L502.3 1019.2 L504.5 1013.6 L506.7 1008.1 L508.9 1002.8 L511.1 997.7 L513.3 992.7 L515.5 987.9 L517.7 983.2 L519.9 978.7 L522.1 974.3 L524.3 970.1 L526.5 966.1 L528.7 962.2 L531.0 958.6 L533.2 955.0 L535.4 951.7 L537.6 948.6 L539.8 945.7 L542.0 942.9 L544.2 940.4 L546.4 938.1 L548.6 936.0 L550.8 934.1 L553.0 932.5 L555.2 931.1 L557.4 929.9 L559.6 929.0 L561.8 928.4 L564.0 928.0 L566.2 927.9 L568.4 928.0 L570.6 928.4 L572.8 929.0 L575.0 929.9 L577.2 931.1 L579.4 932.5 L581.6 934.1 L583.8 936.0 L586.0 938.1 L588.2 940.4 L590.4 942.9 L592.6 945.7 L594.8 948.6 L597.0 951.7 L599.2 955.0 L601.4 958.6 L603.7 962.2 L605.9 966.1 L608.1 970.1 L610.3 974.3 L612.5 978.7 L614.7 983.2 L616.9 987.9 L619.1 992.7 L621.3 997.7 L623.5 1002.8 L625.7 1008.1 L627.9 1013.6 L630.1 1019.2 L632.3 1024.9 L634.5 1030.8 L636.7 1036.9 L638.9 1043.1 L641.1 1049.4 L643.3 1055.8 L645.5 1062.4 L647.7 1069.1 L649.9 1075.9 L652.1 1082.8 L654.3 1089.8 L656.5 1096.9 L658.7 1104.0 L660.9 1111.1 L663.1 1118.3 L665.3 1125.6 L667.5 1132.8 L669.7 1140.0 L671.9 1147.2 L674.1 1154.4 L676.4 1161.5 L678.6 1168.6 L680.8 1175.5 L683.0 1182.4 L685.2 1189.2 L687.4 1195.9 L689.6 1202.4 L691.8 1208.8 L694.0 1215.1 L696.2 1221.3 L698.4 1227.3 L700.6 1233.1 L702.8 1238.8 L705.0 1244.3 L707.2 1249.6 L709.4 1254.7 L711.6 1259.7 L713.8 1264.5 L716.0 1269.1 L718.2 1273.5 L720.4 1277.7 L722.6 1281.8 L724.8 1285.6 L727.0 1289.2 L729.2 1292.6 L731.4 1295.9 L733.6 1298.9 L735.8 1301.7 L738.0 1304.3 L740.2 1306.7 L742.4 1308.9 L744.6 1310.9 L746.8 1312.7 L749.0 1314.3 L751.3 1315.6 L753.5 1316.8 L755.7 1317.8 L757.9 1318.6 L760.1 1319.2 L762.3 1319.6 L764.5 1319.9 L766.7 1320.0 L768.9 1319.9 L771.1 1319.7 L773.3 1319.3 L775.5 1318.9 L777.7 1318.2 L779.9 1317.5 L782.1 1316.7 L784.3 1315.8 L786.5 1314.7 L788.7 1313.6 L790.9 1312.5 L793.1 1311.2 L795.3 1309.9 L797.5 1308.6 L799.7 1307.2 L801.9 1305.8 L804.1 1304.3 L806.3 1302.8 L808.5 1301.2 L810.7 1299.7 L812.9 1298.1 L815.1 1296.5 L817.3 1294.8 L819.5 1293.2 L821.7 1291.5 L824.0 1289.8 L826.2 1288.1 L828.4 1286.4 L830.6 1284.7 L832.8 1283.0 L835.0 1281.3 L837.2 1279.6 L839.4 1277.9 L841.6 1276.2 L843.8 1274.6 L846.0 1272.9 L848.2 1271.3 L850.4 1269.6 L852.6 1268.1 L854.8 1266.5 L857.0 1265.0 L859.2 1263.5 L861.4 1262.0 L863.6 1260.6 L865.8 1259.2 L868.0 1257.9 L870.2 1256.6 L872.4 1255.4 L874.6 1254.2 L876.8 1253.0 L879.0 1251.9 L881.2 1250.8 L883.4 1249.7 L885.6 1248.7 L887.8 1247.7 L890.0 1246.8 L892.2 1245.9 L894.4 1245.0 L896.6 1244.1 L898.9 1243.2 L901.1 1242.4 L903.3 1241.6 L905.5 1240.8 L907.7 1240.0 L909.9 1239.2 L912.1 1238.4 L914.3 1237.7 L916.5 1237.0 L918.7 1236.3 L920.9 1235.6 L923.1 1234.9 L925.3 1234.2 L927.5 1233.6 L929.7 1232.9 L931.9 1232.3 L934.1 1231.7 L936.3 1231.2 L938.5 1230.6 L940.7 1230.1 L942.9 1229.6 L945.1 1229.1 L947.3 1228.7 L949.5 1228.3 L951.7 1227.9 L953.9 1227.5 L956.1 1227.1 L958.3 1226.8 L960.5 1226.5 L962.7 1226.2 L964.9 1226.0 L967.1 1225.7 L969.3 1225.5 L971.6 1225.3 L973.8 1225.1 L976.0 1224.9 L978.2 1224.8 L980.4 1224.6 L982.6 1224.5 L984.8 1224.4 L987.0 1224.3 L989.2 1224.2 L991.4 1224.1 L993.6 1224.0 L995.8 1223.9 L998.0 1223.9 L1000.2 1223.9 L1002.4 1223.8 L1004.6 1223.8 L1006.8 1223.8"/>
<path class="c" stroke="#ff00ff" stroke-dasharray="12.50 21.80" stroke-dashoffset="0.75" d="M125.6 1559.5 L127.8 1559.5 L130.0 1559.4 L132.2 1559.3 L134.4 1559.1 L136.6 1558.9 L138.8 1558.7 L141.0 1558.4 L143.2 1558.0 L145.4 1557.6 L147.6 1557.2 L149.8 1556.7 L152.0 1556.2 L154.2 1555.6 L156.4 1555.0 L158.6 1554.4 L160.8 1553.6 L163.1 1552.9 L165.3 1552.1 L167.5 1551.3 L169.7 1550.4 L171.9 1549.4 L174.1 1548.5 L176.3 1547.4 L178.5 1546.3 L180.7 1545.2 L182.9 1544.0 L185.1 1542.8 L187.3 1541.5 L189.5 1540.1 L191.7 1538.7 L193.9 1537.3 L196.1 1535.8 L198.3 1534.2 L200.5 1532.5 L202.7 1530.8 L204.9 1529.1 L207.1 1527.2 L209.3 1525.3 L211.5 1523.4 L213.7 1521.4 L215.9 1519.3 L218.1 1517.1 L220.3 1514.9 L222.5 1512.6 L224.7 1510.3 L226.9 1507.8 L229.1 1505.3 L231.3 1502.8 L233.5 1500.2 L235.8 1497.5 L238.0 1494.7 L240.2 1491.9 L242.4 1489.0 L244.6 1486.1 L246.8 1483.1 L249.0 1480.0 L251.2 1476.8 L253.4 1473.6 L255.6 1470.3 L257.8 1466.9 L260.0 1463.5 L262.2 1460.0 L264.4 1456.5 L266.6 1452.9 L268.8 1449.2 L271.0 1445.4 L273.2 1441.6 L275.4 1437.8 L277.6 1433.9 L279.8 1429.9 L282.0 1425.9 L284.2 1421.8 L286.4 1417.7 L288.6 1413.5 L290.8 1409.3 L293.0 1405.0 L295.2 1400.7 L297.4 1396.4 L299.6 1392.0 L301.8 1387.6 L304.0 1383.2 L306.2 1378.8 L308.4 1374.3 L310.7 1369.8 L312.9 1365.3 L315.1 1360.8 L317.3 1356.3 L319.5 1351.8 L321.7 1347.3 L323.9 1342.8 L326.1 1338.4 L328.3 1333.9 L330.5 1329.5 L332.7 1325.0 L334.9 1320.7 L337.1 1316.3 L339.3 1312.1 L341.5 1307.9 L343.7 1303.7 L345.9 1299.6 L348.1 1295.6 L350.3 1291.7 L352.5 1287.9 L354.7 1284.2 L356.9 1280.6 L359.1 1277.2 L361.3 1273.8 L363.5 1270.7 L365.7 1267.7 L367.9 1264.8 L370.1 1262.1 L372.3 1259.6 L374.5 1257.3 L376.7 1255.2 L378.9 1253.3 L381.1 1251.6 L383.4 1250.1 L385.6 1248.8 L387.8 1247.8 L390.0 1247.0 L392.2 1246.5 L394.4 1246.2 L396.6 1246.1 L398.8 1246.3 L401.0 1246.8 L403.2 1247.5 L405.4 1248.5 L407.6 1249.7 L409.8 1251.2 L412.0 1253.0 L414.2 1255.0 L416.4 1257.3 L418.6 1259.8 L420.8 1262.6 L423.0 1265.6 L425.2 1268.9 L427.4 1272.4 L429.6 1276.2 L431.8 1280.2 L434.0 1284.4 L436.2 1288.9 L438.4 1293.5 L440.6 1298.4 L442.8 1303.5 L445.0 1308.7 L447.2 1314.1 L449.4 1319.7 L451.6 1325.5 L453.8 1331.3 L456.0 1337.4 L458.3 1343.5 L460.5 1349.7 L462.7 1356.0 L464.9 1362.4 L467.1 1368.9 L469.3 1375.4 L471.5 1381.9 L473.7 1388.5 L475.9 1395.0 L478.1 1401.6 L480.3 1408.2 L482.5 1414.7 L484.7 1421.1 L486.9 1427.5 L489.1 1433.9 L491.3 1440.1 L493.5 1446.3 L495.7 1452.4 L497.9 1458.4 L500.1 1464.2 L502.3 1469.9 L504.5 1475.5 L506.7 1481.0 L508.9 1486.3 L511.1 1491.5 L513.3 1496.5 L515.5 1501.4 L517.7 1506.0 L519.9 1510.6 L522.1 1514.9 L524.3 1519.1 L526.5 1523.1 L528.7 1526.9 L531.0 1530.5 L533.2 1533.9 L535.4 1537.1 L537.6 1540.1 L539.8 1542.9 L542.0 1545.5 L544.2 1547.9 L546.4 1550.1 L548.6 1552.1 L550.8 1553.8 L553.0 1555.3 L555.2 1556.6 L557.4 1557.6 L559.6 1558.4 L561.8 1559.0 L564.0 1559.4 L566.2 1559.5"/>
<path class="c" stroke="#ff00ff" stroke-dasharray="12.50 21.69" stroke-dashoffset="12.44" d="M566.2 1559.5 L568.4 1559.4 L570.6 1559.0 L572.8 1558.4 L575.0 1557.6 L577.2 1556.6 L579.4 1555.3 L581.6 1553.8 L583.8 1552.1 L586.0 1550.1 L588.2 1547.9 L590.4 1545.5 L592.6 1542.9 L594.8 1540.1 L597.0 1537.1 L599.2 1533.9 L601.4 1530.5 L603.7 1526.9 L605.9 1523.1 L608.1 1519.1 L610.3 1514.9 L612.5 1510.6 L614.7 1506.0 L616.9 1501.4 L619.1 1496.5 L621.3 1491.5 L623.5 1486.3 L625.7 1481.0 L627.9 1475.5 L630.1 1469.9 L632.3 1464.2 L634.5 1458.4 L636.7 1452.4 L638.9 1446.3 L641.1 1440.1 L643.3 1433.9 L645.5 1427.5 L647.7 1421.1 L649.9 1414.7 L652.1 1408.2 L654.3 1401.6 L656.5 1395.0 L658.7 1388.5 L660.9 1381.9 L663.1 1375.4 L665.3 1368.9 L667.5 1362.4 L669.7 1356.0 L671.9 1349.7 L674.1 1343.5 L676.4 1337.4 L678.6 1331.3 L680.8 1325.5 L683.0 1319.7 L685.2 1314.1 L687.4 1308.7 L689.6 1303.5 L691.8 1298.4 L694.0 1293.5 L696.2 1288.9 L698.4 1284.4 L700.6 1280.2 L702.8 1276.2 L705.0 1272.4 L707.2 1268.9 L709.4 1265.6 L711.6 1262.6 L713.8 1259.8 L716.0 1257.3 L718.2 1255.0 L720.4 1253.0 L722.6 1251.2 L724.8 1249.7 L727.0 1248.5 L729.2 1247.5 L731.4 1246.8 L733.6 1246.3 L735.8 1246.1 L738.0 1246.2 L740.2 1246.5 L742.4 1247.0 L744.6 1247.8 L746.8 1248.8 L749.0 1250.1 L751.3 1251.6 L753.5 1253.3 L755.7 1255.2 L757.9 1257.3 L760.1 1259.6 L762.3 1262.1 L764.5 1264.8 L766.7 1267.7 L768.9 1270.7 L771.1 1273.8 L773.3 1277.2 L775.5 1280.6 L777.7 1284.2 L779.9 1287.9 L782.1 1291.7 L784.3 1295.6 L786.5 1299.6 L788.7 1303.7 L790.9 1307.9 L793.1 1312.1 L795.3 1316.3 L797.5 1320.7 L799.7 1325.0 L801.9 1329.5 L804.1 1333.9 L806.3 1338.4 L808.5 1342.8 L810.7 1347.3 L812.9 1351.8 L815.1 1356.3 L817.3 1360.8 L819.5 1365.3 L821.7 1369.8 L824.0 1374.3 L826.2 1378.8 L828.4 1383.2 L830.6 1387.6 L832.8 1392.0 L835.0 1396.4 L837.2 1400.7 L839.4 1405.0 L841.6 1409.3 L843.8 1413.5 L846.0 1417.7 L848.2 1421.8 L850.4 1425.9 L852.6 1429.9 L854.8 1433.9 L857.0 1437.8 L859.2 1441.6 L861.4 1445.4 L863.6 1449.2 L865.8 1452.9 L868.0 1456.5 L870.2 1460.0 L872.4 1463.5 L874.6 1466.9 L876.8 1470.3 L879.0 1473.6 L881.2 1476.8 L883.4 1480.0 L885.6 1483.1 L887.8 1486.1 L890.0 1489.0 L892.2 1491.9 L894.4 1494.7 L896.6 1497.5 L898.9 1500.2 L901.1 1502.8 L903.3 1505.3 L905.5 1507.8 L907.7 1510.3 L909.9 1512.6 L912.1 1514.9 L914.3 1517.1 L916.5 1519.3 L918.7 1521.4 L920.9 1523.4 L923.1 1525.3 L925.3 1527.2 L927.5 1529.1 L929.7 1530.8 L931.9 1532.5 L934.1 1534.2 L936.3 1535.8 L938.5 1537.3 L940.7 1538.7 L942.9 1540.1 L945.1 1541.5 L947.3 1542.8 L949.5 1544.0 L951.7 1545.2 L953.9 1546.3 L956.1 1547.4 L958.3 1548.5 L960.5 1549.4 L962.7 1550.4 L964.9 1551.3 L967.1 1552.1 L969.3 1552.9 L971.6 1553.6 L973.8 1554.4 L976.0 1555.0 L978.2 1555.6 L980.4 1556.2 L982.6 1556.7 L984.8 1557.2 L987.0 1557.6 L989.2 1558.0 L991.4 1558.4 L993.6 1558.7 L995.8 1558.9 L998.0 1559.1 L1000.2 1559.3 L1002.4 1559.4 L1004.6 1559.5 L1006.8 1559.5"/>
</g>
<text font-size="32.5" text-anchor="end" transform="translate(110.10 859.10) scale(0.935 1)">0.6</text>
<text font-size="32.5" text-anchor="end" transform="translate(110.10 1095.77) scale(0.935 1)">0.4</text>
<text font-size="32.5" text-anchor="end" transform="translate(110.10 1332.43) scale(0.935 1)">0.2</text>
<text font-size="32.5" text-anchor="end" transform="translate(110.10 1569.10) scale(0.935 1)">0.0</text>
<text font-size="32.5" text-anchor="middle" transform="translate(125.60 1598.80) scale(0.935 1)">0.0</text>
<text font-size="32.5" text-anchor="middle" transform="translate(345.90 1598.80) scale(0.935 1)">0.5</text>
<text font-size="32.5" text-anchor="middle" transform="translate(566.20 1598.80) scale(0.935 1)">1.0</text>
<text font-size="32.5" text-anchor="middle" transform="translate(786.50 1598.80) scale(0.935 1)">1.5</text>
<text font-size="32.5" text-anchor="middle" transform="translate(1006.80 1598.80) scale(0.935 1)">2.0</text>
<text class="T2" font-size="37.6" transform="translate(539.90 1659.00) scale(1.09 1)">α</text><text class="T2" font-size="37" transform="translate(562.50 1659.80) scale(0.92 1)">/</text><text class="T2" font-size="37.2" transform="translate(572.70 1659.00) scale(1.03 1)">π</text>
<text class="T" text-anchor="middle" transform="translate(23.8 1189.2) rotate(-90)">T<tspan font-size="25" dy="11.2">AR</tspan><tspan dy="-11.2">,T</tspan><tspan font-size="25" dy="11.2">ESAR</tspan></text>
<text font-size="30.5" text-anchor="start" transform="translate(138.60 895.00) scale(0.980 1)">(b)</text>
</g>
</svg></body></html>
